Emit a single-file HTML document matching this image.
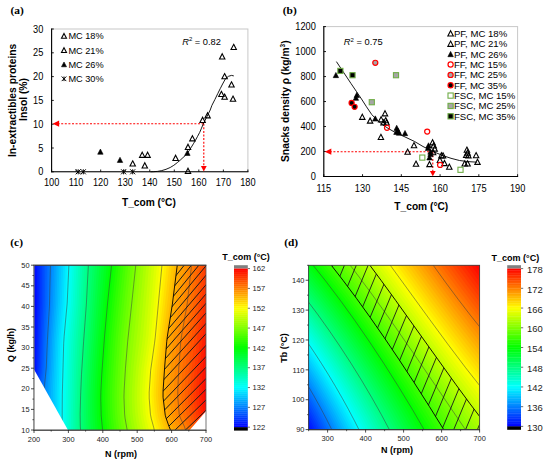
<!DOCTYPE html>
<html><head><meta charset="utf-8"><title>Figure</title>
<style>
html,body{margin:0;padding:0;background:#fff;width:550px;height:463px;overflow:hidden;}
svg{display:block;}

</style></head><body>
<svg width="550" height="463" viewBox="0 0 550 463">
<rect x="0" y="0" width="550" height="463" fill="#fff"/>
<text x="10.5" y="13.9" font-size="11.4" text-anchor="start" font-weight="bold" font-family='"Liberation Serif", serif' fill="#000">(a)</text>
<rect x="51.6" y="29" width="196.3" height="142.8" fill="none" stroke="#c8c8c8" stroke-width="1"/>
<line x1="51.6" y1="28.5" x2="51.6" y2="172.3" stroke="#000" stroke-width="1.1"/>
<line x1="51.1" y1="171.8" x2="248.4" y2="171.8" stroke="#000" stroke-width="1.1"/>
<line x1="51.6" y1="171.8" x2="53.8" y2="171.8" stroke="#000" stroke-width="0.9"/>
<text transform="translate(43.4,175.38) scale(1,1.08)" font-size="9.25" text-anchor="end" font-weight="normal" font-family='"Liberation Sans", sans-serif' fill="#000">0</text>
<line x1="51.6" y1="148" x2="53.8" y2="148" stroke="#000" stroke-width="0.9"/>
<text transform="translate(43.4,151.58) scale(1,1.08)" font-size="9.25" text-anchor="end" font-weight="normal" font-family='"Liberation Sans", sans-serif' fill="#000">5</text>
<line x1="51.6" y1="124.2" x2="53.8" y2="124.2" stroke="#000" stroke-width="0.9"/>
<text transform="translate(43.4,127.78) scale(1,1.08)" font-size="9.25" text-anchor="end" font-weight="normal" font-family='"Liberation Sans", sans-serif' fill="#000">10</text>
<line x1="51.6" y1="100.4" x2="53.8" y2="100.4" stroke="#000" stroke-width="0.9"/>
<text transform="translate(43.4,103.98) scale(1,1.08)" font-size="9.25" text-anchor="end" font-weight="normal" font-family='"Liberation Sans", sans-serif' fill="#000">15</text>
<line x1="51.6" y1="76.6" x2="53.8" y2="76.6" stroke="#000" stroke-width="0.9"/>
<text transform="translate(43.4,80.18) scale(1,1.08)" font-size="9.25" text-anchor="end" font-weight="normal" font-family='"Liberation Sans", sans-serif' fill="#000">20</text>
<line x1="51.6" y1="52.8" x2="53.8" y2="52.8" stroke="#000" stroke-width="0.9"/>
<text transform="translate(43.4,56.38) scale(1,1.08)" font-size="9.25" text-anchor="end" font-weight="normal" font-family='"Liberation Sans", sans-serif' fill="#000">25</text>
<line x1="51.6" y1="29" x2="53.8" y2="29" stroke="#000" stroke-width="0.9"/>
<text transform="translate(43.4,32.58) scale(1,1.08)" font-size="9.25" text-anchor="end" font-weight="normal" font-family='"Liberation Sans", sans-serif' fill="#000">30</text>
<line x1="51.6" y1="171.8" x2="51.6" y2="169.5" stroke="#000" stroke-width="0.9"/>
<text transform="translate(51.6,186.2) scale(1,1.08)" font-size="9.25" text-anchor="middle" font-weight="normal" font-family='"Liberation Sans", sans-serif' fill="#000">100</text>
<line x1="76.14" y1="171.8" x2="76.14" y2="169.5" stroke="#000" stroke-width="0.9"/>
<text transform="translate(76.14,186.2) scale(1,1.08)" font-size="9.25" text-anchor="middle" font-weight="normal" font-family='"Liberation Sans", sans-serif' fill="#000">110</text>
<line x1="100.68" y1="171.8" x2="100.68" y2="169.5" stroke="#000" stroke-width="0.9"/>
<text transform="translate(100.68,186.2) scale(1,1.08)" font-size="9.25" text-anchor="middle" font-weight="normal" font-family='"Liberation Sans", sans-serif' fill="#000">120</text>
<line x1="125.21" y1="171.8" x2="125.21" y2="169.5" stroke="#000" stroke-width="0.9"/>
<text transform="translate(125.21,186.2) scale(1,1.08)" font-size="9.25" text-anchor="middle" font-weight="normal" font-family='"Liberation Sans", sans-serif' fill="#000">130</text>
<line x1="149.75" y1="171.8" x2="149.75" y2="169.5" stroke="#000" stroke-width="0.9"/>
<text transform="translate(149.75,186.2) scale(1,1.08)" font-size="9.25" text-anchor="middle" font-weight="normal" font-family='"Liberation Sans", sans-serif' fill="#000">140</text>
<line x1="174.29" y1="171.8" x2="174.29" y2="169.5" stroke="#000" stroke-width="0.9"/>
<text transform="translate(174.29,186.2) scale(1,1.08)" font-size="9.25" text-anchor="middle" font-weight="normal" font-family='"Liberation Sans", sans-serif' fill="#000">150</text>
<line x1="198.82" y1="171.8" x2="198.82" y2="169.5" stroke="#000" stroke-width="0.9"/>
<text transform="translate(198.82,186.2) scale(1,1.08)" font-size="9.25" text-anchor="middle" font-weight="normal" font-family='"Liberation Sans", sans-serif' fill="#000">160</text>
<line x1="223.36" y1="171.8" x2="223.36" y2="169.5" stroke="#000" stroke-width="0.9"/>
<text transform="translate(223.36,186.2) scale(1,1.08)" font-size="9.25" text-anchor="middle" font-weight="normal" font-family='"Liberation Sans", sans-serif' fill="#000">170</text>
<line x1="247.9" y1="171.8" x2="247.9" y2="169.5" stroke="#000" stroke-width="0.9"/>
<text transform="translate(247.9,186.2) scale(1,1.08)" font-size="9.25" text-anchor="middle" font-weight="normal" font-family='"Liberation Sans", sans-serif' fill="#000">180</text>
<text x="148.9" y="205.6" font-size="10.2" text-anchor="middle" font-weight="bold" font-family='"Liberation Sans", sans-serif' fill="#000">T_com (°C)</text>
<text transform="translate(15.7,100.4) rotate(-90)" font-size="10.3" font-weight="bold" text-anchor="middle" font-family='"Liberation Sans", sans-serif'>In-extractibles proteins</text>
<text transform="translate(26.6,99.5) rotate(-90)" font-size="10.3" font-weight="bold" text-anchor="middle" font-family='"Liberation Sans", sans-serif'>Insol (%)</text>
<polygon points="64,33.45 66.5,38.25 61.5,38.25" fill="none" stroke="#000" stroke-width="1.1"/>
<text x="68.4" y="39.29" font-size="9.2" text-anchor="start" font-weight="normal" font-family='"Liberation Sans", sans-serif' fill="#000">MC 18%</text>
<polygon points="64,47.72 66.5,52.52 61.5,52.52" fill="none" stroke="#000" stroke-width="1.1"/>
<text x="68.4" y="53.56" font-size="9.2" text-anchor="start" font-weight="normal" font-family='"Liberation Sans", sans-serif' fill="#000">MC 21%</text>
<polygon points="64,61.99 66.5,66.79 61.5,66.79" fill="#000" stroke="#000" stroke-width="0.6"/>
<text x="68.4" y="67.83" font-size="9.2" text-anchor="start" font-weight="normal" font-family='"Liberation Sans", sans-serif' fill="#000">MC 26%</text>
<line x1="61.7" y1="76.51" x2="66.3" y2="81.11" stroke="#000" stroke-width="1"/>
<line x1="61.7" y1="81.11" x2="66.3" y2="76.51" stroke="#000" stroke-width="1"/>
<line x1="64" y1="76.51" x2="64" y2="81.11" stroke="#000" stroke-width="1"/>
<text x="68.4" y="82.1" font-size="9.2" text-anchor="start" font-weight="normal" font-family='"Liberation Sans", sans-serif' fill="#000">MC 30%</text>
<text x="182.2" y="44.7" font-size="9.3" font-family='"Liberation Sans", sans-serif'><tspan font-style="italic">R</tspan><tspan font-size="6" dy="-3.3">2</tspan><tspan dy="3.3"> = 0.82</tspan></text>
<line x1="57.6" y1="123.7" x2="203.8" y2="123.7" stroke="#ff0000" stroke-width="1.1" stroke-dasharray="2,1.6"/>
<polygon points="52.6,123.7 59.1,120.6 59.1,126.8" fill="#ff0000" stroke="none" stroke-width="1"/>
<line x1="203.8" y1="123.7" x2="203.8" y2="166" stroke="#ff0000" stroke-width="1.1" stroke-dasharray="2,1.6"/>
<polygon points="203.8,171.5 200.9,166 206.7,166" fill="#ff0000" stroke="none" stroke-width="1"/>
<path d="M150.5,171.8 L153.4,171.7 L157.5,171.4 L161.8,170.6 L166,169.3 L170.2,167.5 L173.8,165.3 L177.3,162.6 L180.2,160.2 L182.9,157.7 L185.1,155.7 L187.1,153.5 L189.3,150.5 L191.3,147.2 L193.4,143.8 L195.5,140.2 L197.6,136.3 L199.7,132.4 L201.5,128.2 L203.2,124 L205,120.5 L206.7,117 L208.5,113.5 L210.2,110 L211.9,105.4 L214.9,99.5 L217.8,93.5 L220.2,88.7 L222.6,84 L225.5,78.7 L228.5,76.3 L231.5,75.4 L233.8,75.9" fill="none" stroke="#000" stroke-width="0.9"/>
<polygon points="132.7,160.87 135.4,166.03 130,166.03" fill="none" stroke="#000" stroke-width="1.1"/>
<polygon points="142.2,152.17 144.9,157.33 139.5,157.33" fill="none" stroke="#000" stroke-width="1.1"/>
<polygon points="147.6,152.17 150.3,157.33 144.9,157.33" fill="none" stroke="#000" stroke-width="1.1"/>
<polygon points="144.8,162.77 147.5,167.93 142.1,167.93" fill="none" stroke="#000" stroke-width="1.1"/>
<polygon points="175.6,155.27 178.3,160.43 172.9,160.43" fill="none" stroke="#000" stroke-width="1.1"/>
<polygon points="188,144.27 190.7,149.43 185.3,149.43" fill="none" stroke="#000" stroke-width="1.1"/>
<polygon points="192.4,135.67 195.1,140.83 189.7,140.83" fill="none" stroke="#000" stroke-width="1.1"/>
<polygon points="188,168.27 190.7,173.43 185.3,173.43" fill="none" stroke="#000" stroke-width="1.1"/>
<polygon points="202.6,117.27 205.3,122.43 199.9,122.43" fill="none" stroke="#000" stroke-width="1.1"/>
<polygon points="207.6,112.67 210.3,117.83 204.9,117.83" fill="none" stroke="#000" stroke-width="1.1"/>
<polygon points="221.4,91.37 224.1,96.53 218.7,96.53" fill="none" stroke="#000" stroke-width="1.1"/>
<polygon points="224.6,94.07 227.3,99.23 221.9,99.23" fill="none" stroke="#000" stroke-width="1.1"/>
<polygon points="233,96.07 235.7,101.23 230.3,101.23" fill="none" stroke="#000" stroke-width="1.1"/>
<polygon points="233.7,44.37 236.4,49.53 231,49.53" fill="none" stroke="#000" stroke-width="1.1"/>
<polygon points="222.2,53.77 224.9,58.93 219.5,58.93" fill="none" stroke="#000" stroke-width="1.1"/>
<polygon points="224.6,73.57 227.3,78.73 221.9,78.73" fill="none" stroke="#000" stroke-width="1.1"/>
<polygon points="231.5,81.87 234.2,87.03 228.8,87.03" fill="none" stroke="#000" stroke-width="1.1"/>
<polygon points="100.4,149.07 103.1,154.23 97.7,154.23" fill="#000" stroke="#000" stroke-width="0.6"/>
<polygon points="120,157.27 122.7,162.43 117.3,162.43" fill="#000" stroke="#000" stroke-width="0.6"/>
<polygon points="187.4,150.27 190.1,155.43 184.7,155.43" fill="#000" stroke="#000" stroke-width="0.6"/>
<line x1="75.7" y1="169.3" x2="80.7" y2="174.3" stroke="#000" stroke-width="1"/>
<line x1="75.7" y1="174.3" x2="80.7" y2="169.3" stroke="#000" stroke-width="1"/>
<line x1="78.2" y1="169.3" x2="78.2" y2="174.3" stroke="#000" stroke-width="1"/>
<line x1="80.8" y1="169.3" x2="85.8" y2="174.3" stroke="#000" stroke-width="1"/>
<line x1="80.8" y1="174.3" x2="85.8" y2="169.3" stroke="#000" stroke-width="1"/>
<line x1="83.3" y1="169.3" x2="83.3" y2="174.3" stroke="#000" stroke-width="1"/>
<line x1="121.1" y1="169.3" x2="126.1" y2="174.3" stroke="#000" stroke-width="1"/>
<line x1="121.1" y1="174.3" x2="126.1" y2="169.3" stroke="#000" stroke-width="1"/>
<line x1="123.6" y1="169.3" x2="123.6" y2="174.3" stroke="#000" stroke-width="1"/>
<line x1="130.2" y1="169.3" x2="135.2" y2="174.3" stroke="#000" stroke-width="1"/>
<line x1="130.2" y1="174.3" x2="135.2" y2="169.3" stroke="#000" stroke-width="1"/>
<line x1="132.7" y1="169.3" x2="132.7" y2="174.3" stroke="#000" stroke-width="1"/>
<text x="282.8" y="13.9" font-size="11.4" text-anchor="start" font-weight="bold" font-family='"Liberation Serif", serif' fill="#000">(b)</text>
<rect x="323.8" y="26.6" width="193.8" height="149.9" fill="none" stroke="#c8c8c8" stroke-width="1"/>
<line x1="323.8" y1="26.1" x2="323.8" y2="177" stroke="#000" stroke-width="1.1"/>
<line x1="323.3" y1="176.5" x2="518.1" y2="176.5" stroke="#000" stroke-width="1.1"/>
<line x1="323.8" y1="176.5" x2="326" y2="176.5" stroke="#000" stroke-width="0.9"/>
<text transform="translate(315.9,179.78) scale(1,1.08)" font-size="9.25" text-anchor="end" font-weight="normal" font-family='"Liberation Sans", sans-serif' fill="#000">0</text>
<line x1="323.8" y1="151.52" x2="326" y2="151.52" stroke="#000" stroke-width="0.9"/>
<text transform="translate(315.9,154.79) scale(1,1.08)" font-size="9.25" text-anchor="end" font-weight="normal" font-family='"Liberation Sans", sans-serif' fill="#000">200</text>
<line x1="323.8" y1="126.53" x2="326" y2="126.53" stroke="#000" stroke-width="0.9"/>
<text transform="translate(315.9,129.81) scale(1,1.08)" font-size="9.25" text-anchor="end" font-weight="normal" font-family='"Liberation Sans", sans-serif' fill="#000">400</text>
<line x1="323.8" y1="101.55" x2="326" y2="101.55" stroke="#000" stroke-width="0.9"/>
<text transform="translate(315.9,104.83) scale(1,1.08)" font-size="9.25" text-anchor="end" font-weight="normal" font-family='"Liberation Sans", sans-serif' fill="#000">600</text>
<line x1="323.8" y1="76.57" x2="326" y2="76.57" stroke="#000" stroke-width="0.9"/>
<text transform="translate(315.9,79.84) scale(1,1.08)" font-size="9.25" text-anchor="end" font-weight="normal" font-family='"Liberation Sans", sans-serif' fill="#000">800</text>
<line x1="323.8" y1="51.58" x2="326" y2="51.58" stroke="#000" stroke-width="0.9"/>
<text transform="translate(315.9,54.86) scale(1,1.08)" font-size="9.25" text-anchor="end" font-weight="normal" font-family='"Liberation Sans", sans-serif' fill="#000">1000</text>
<line x1="323.8" y1="26.6" x2="326" y2="26.6" stroke="#000" stroke-width="0.9"/>
<text transform="translate(315.9,29.88) scale(1,1.08)" font-size="9.25" text-anchor="end" font-weight="normal" font-family='"Liberation Sans", sans-serif' fill="#000">1200</text>
<line x1="323.8" y1="176.5" x2="323.8" y2="174.2" stroke="#000" stroke-width="0.9"/>
<text transform="translate(323.8,191.9) scale(1,1.08)" font-size="9.25" text-anchor="middle" font-weight="normal" font-family='"Liberation Sans", sans-serif' fill="#000">115</text>
<line x1="362.56" y1="176.5" x2="362.56" y2="174.2" stroke="#000" stroke-width="0.9"/>
<text transform="translate(362.56,191.9) scale(1,1.08)" font-size="9.25" text-anchor="middle" font-weight="normal" font-family='"Liberation Sans", sans-serif' fill="#000">130</text>
<line x1="401.32" y1="176.5" x2="401.32" y2="174.2" stroke="#000" stroke-width="0.9"/>
<text transform="translate(401.32,191.9) scale(1,1.08)" font-size="9.25" text-anchor="middle" font-weight="normal" font-family='"Liberation Sans", sans-serif' fill="#000">145</text>
<line x1="440.08" y1="176.5" x2="440.08" y2="174.2" stroke="#000" stroke-width="0.9"/>
<text transform="translate(440.08,191.9) scale(1,1.08)" font-size="9.25" text-anchor="middle" font-weight="normal" font-family='"Liberation Sans", sans-serif' fill="#000">160</text>
<line x1="478.84" y1="176.5" x2="478.84" y2="174.2" stroke="#000" stroke-width="0.9"/>
<text transform="translate(478.84,191.9) scale(1,1.08)" font-size="9.25" text-anchor="middle" font-weight="normal" font-family='"Liberation Sans", sans-serif' fill="#000">175</text>
<line x1="517.6" y1="176.5" x2="517.6" y2="174.2" stroke="#000" stroke-width="0.9"/>
<text transform="translate(517.6,191.9) scale(1,1.08)" font-size="9.25" text-anchor="middle" font-weight="normal" font-family='"Liberation Sans", sans-serif' fill="#000">190</text>
<text x="421.3" y="209.7" font-size="10.2" text-anchor="middle" font-weight="bold" font-family='"Liberation Sans", sans-serif' fill="#000">T_com (°C)</text>
<text transform="translate(288.5,101.2) rotate(-90)" font-size="10.3" font-weight="bold" text-anchor="middle" font-family='"Liberation Sans", sans-serif'>Snacks density ρ (kg/m<tspan font-size="6.5" dy="-3.5">3</tspan><tspan dy="3.5">)</tspan></text>
<text x="343.8" y="45.1" font-size="9.3" font-family='"Liberation Sans", sans-serif'><tspan font-style="italic">R</tspan><tspan font-size="6" dy="-3.3">2</tspan><tspan dy="3.3"> = 0.75</tspan></text>
<polygon points="450.6,30.72 453.35,35.98 447.85,35.98" fill="none" stroke="#000" stroke-width="1.1"/>
<text x="453.9" y="36.94" font-size="9.6" text-anchor="start" font-weight="normal" font-family='"Liberation Sans", sans-serif' fill="#000">PF, MC 18%</text>
<polygon points="450.6,41.08 453.35,46.33 447.85,46.33" fill="none" stroke="#000" stroke-width="1.1"/>
<text x="453.9" y="47.29" font-size="9.6" text-anchor="start" font-weight="normal" font-family='"Liberation Sans", sans-serif' fill="#000">PF, MC 21%</text>
<polygon points="450.6,51.43 453.35,56.68 447.85,56.68" fill="#000" stroke="#000" stroke-width="0.6"/>
<text x="453.9" y="57.64" font-size="9.6" text-anchor="start" font-weight="normal" font-family='"Liberation Sans", sans-serif' fill="#000">PF, MC 26%</text>
<circle cx="450.6" cy="64.55" r="2.58" fill="none" stroke="#ff0000" stroke-width="1.2"/>
<text x="453.9" y="67.99" font-size="9.6" text-anchor="start" font-weight="normal" font-family='"Liberation Sans", sans-serif' fill="#000">FF, MC 15%</text>
<circle cx="450.6" cy="74.9" r="2.58" fill="#a6a6a6" stroke="#ff0000" stroke-width="1.2"/>
<text x="453.9" y="78.34" font-size="9.6" text-anchor="start" font-weight="normal" font-family='"Liberation Sans", sans-serif' fill="#000">FF, MC 25%</text>
<circle cx="450.6" cy="85.25" r="2.58" fill="#000" stroke="#ff0000" stroke-width="1.2"/>
<text x="453.9" y="88.69" font-size="9.6" text-anchor="start" font-weight="normal" font-family='"Liberation Sans", sans-serif' fill="#000">FF, MC 35%</text>
<rect x="447.99" y="92.99" width="5.22" height="5.22" fill="none" stroke="#70ad47" stroke-width="1.1"/>
<text x="453.9" y="99.04" font-size="9.6" text-anchor="start" font-weight="normal" font-family='"Liberation Sans", sans-serif' fill="#000">FSC, MC 15%</text>
<rect x="447.99" y="103.34" width="5.22" height="5.22" fill="#a6a6a6" stroke="#70ad47" stroke-width="1.1"/>
<text x="453.9" y="109.39" font-size="9.6" text-anchor="start" font-weight="normal" font-family='"Liberation Sans", sans-serif' fill="#000">FSC, MC 25%</text>
<rect x="447.99" y="113.69" width="5.22" height="5.22" fill="#000" stroke="#70ad47" stroke-width="1.1"/>
<text x="453.9" y="119.74" font-size="9.6" text-anchor="start" font-weight="normal" font-family='"Liberation Sans", sans-serif' fill="#000">FSC, MC 35%</text>
<line x1="329.8" y1="151.7" x2="432.8" y2="151.7" stroke="#ff0000" stroke-width="1.1" stroke-dasharray="2,1.6"/>
<polygon points="324.8,151.7 331.3,148.6 331.3,154.8" fill="#ff0000" stroke="none" stroke-width="1"/>
<line x1="432.8" y1="151.7" x2="432.8" y2="171" stroke="#ff0000" stroke-width="1.1" stroke-dasharray="2,1.6"/>
<polygon points="432.8,176.2 429.9,171 435.7,171" fill="#ff0000" stroke="none" stroke-width="1"/>
<path d="M336.4,61.6 L341,68.5 L346,76 L351,83.5 L356.3,91.3 L361.5,99 L366.5,106.8 L371.8,114.6 L377,120 L382,124.3 L386.9,127.6 L393,131.2 L400,134.6 L407,137.9 L414.6,141.5 L423,146.5 L431.8,151 L442.9,155.6 L451,158.3 L459.5,160.5 L468,161.6 L477.1,162.2" fill="none" stroke="#000" stroke-width="0.9"/>
<polygon points="362.3,114.17 365,119.33 359.6,119.33" fill="none" stroke="#000" stroke-width="1.1"/>
<polygon points="370.1,117.97 372.8,123.13 367.4,123.13" fill="none" stroke="#000" stroke-width="1.1"/>
<polygon points="385,110.67 387.7,115.83 382.3,115.83" fill="none" stroke="#000" stroke-width="1.1"/>
<polygon points="381.1,116.67 383.8,121.83 378.4,121.83" fill="none" stroke="#000" stroke-width="1.1"/>
<polygon points="385.7,117.57 388.4,122.73 383,122.73" fill="none" stroke="#000" stroke-width="1.1"/>
<polygon points="383.5,119.87 386.2,125.03 380.8,125.03" fill="none" stroke="#000" stroke-width="1.1"/>
<polygon points="386.6,119.77 389.3,124.93 383.9,124.93" fill="none" stroke="#000" stroke-width="1.1"/>
<polygon points="380.9,134.37 383.6,139.53 378.2,139.53" fill="none" stroke="#000" stroke-width="1.1"/>
<polygon points="414,142.57 416.7,147.73 411.3,147.73" fill="none" stroke="#000" stroke-width="1.1"/>
<polygon points="407.6,149.07 410.3,154.23 404.9,154.23" fill="none" stroke="#000" stroke-width="1.1"/>
<polygon points="416,161.07 418.7,166.23 413.3,166.23" fill="none" stroke="#000" stroke-width="1.1"/>
<polygon points="432.6,139.67 435.3,144.83 429.9,144.83" fill="none" stroke="#000" stroke-width="1.1"/>
<polygon points="433.7,142.77 436.4,147.93 431,147.93" fill="none" stroke="#000" stroke-width="1.1"/>
<polygon points="434.7,145.97 437.4,151.13 432,151.13" fill="none" stroke="#000" stroke-width="1.1"/>
<polygon points="433.1,149.57 435.8,154.73 430.4,154.73" fill="none" stroke="#000" stroke-width="1.1"/>
<polygon points="429.5,161.47 432.2,166.63 426.8,166.63" fill="none" stroke="#000" stroke-width="1.1"/>
<polygon points="441.4,152.67 444.1,157.83 438.7,157.83" fill="none" stroke="#000" stroke-width="1.1"/>
<polygon points="443,152.87 445.7,158.03 440.3,158.03" fill="none" stroke="#000" stroke-width="1.1"/>
<polygon points="439.9,157.27 442.6,162.43 437.2,162.43" fill="none" stroke="#000" stroke-width="1.1"/>
<polygon points="444.5,160.47 447.2,165.63 441.8,165.63" fill="none" stroke="#000" stroke-width="1.1"/>
<polygon points="449.3,164.07 452,169.23 446.6,169.23" fill="none" stroke="#000" stroke-width="1.1"/>
<polygon points="466.9,147.07 469.6,152.23 464.2,152.23" fill="none" stroke="#000" stroke-width="1.1"/>
<polygon points="467.6,149.97 470.3,155.13 464.9,155.13" fill="none" stroke="#000" stroke-width="1.1"/>
<polygon points="466.2,152.17 468.9,157.33 463.5,157.33" fill="none" stroke="#000" stroke-width="1.1"/>
<polygon points="468.4,152.87 471.1,158.03 465.7,158.03" fill="none" stroke="#000" stroke-width="1.1"/>
<polygon points="476.1,152.57 478.8,157.73 473.4,157.73" fill="none" stroke="#000" stroke-width="1.1"/>
<polygon points="477.5,159.17 480.2,164.33 474.8,164.33" fill="none" stroke="#000" stroke-width="1.1"/>
<polygon points="464.7,160.87 467.4,166.03 462,166.03" fill="none" stroke="#000" stroke-width="1.1"/>
<polygon points="467.6,160.87 470.3,166.03 464.9,166.03" fill="none" stroke="#000" stroke-width="1.1"/>
<polygon points="335.9,72.47 338.6,77.63 333.2,77.63" fill="#000" stroke="#000" stroke-width="0.6"/>
<polygon points="356.8,92.37 359.5,97.53 354.1,97.53" fill="#000" stroke="#000" stroke-width="0.6"/>
<polygon points="355.9,95.17 358.6,100.33 353.2,100.33" fill="#000" stroke="#000" stroke-width="0.6"/>
<polygon points="375.3,115.87 378,121.03 372.6,121.03" fill="#000" stroke="#000" stroke-width="0.6"/>
<polygon points="396.7,125.27 399.4,130.43 394,130.43" fill="#000" stroke="#000" stroke-width="0.6"/>
<polygon points="398.1,128.37 400.8,133.53 395.4,133.53" fill="#000" stroke="#000" stroke-width="0.6"/>
<polygon points="396.4,129.27 399.1,134.43 393.7,134.43" fill="#000" stroke="#000" stroke-width="0.6"/>
<polygon points="405,130.47 407.7,135.63 402.3,135.63" fill="#000" stroke="#000" stroke-width="0.6"/>
<polygon points="399,130.07 401.7,135.23 396.3,135.23" fill="#000" stroke="#000" stroke-width="0.6"/>
<polygon points="428.5,142.77 431.2,147.93 425.8,147.93" fill="#000" stroke="#000" stroke-width="0.6"/>
<polygon points="428,145.37 430.7,150.53 425.3,150.53" fill="#000" stroke="#000" stroke-width="0.6"/>
<polygon points="430.5,149.07 433.2,154.23 427.8,154.23" fill="#000" stroke="#000" stroke-width="0.6"/>
<polygon points="430.5,151.27 433.2,156.43 427.8,156.43" fill="#000" stroke="#000" stroke-width="0.6"/>
<polygon points="429.5,154.77 432.2,159.93 426.8,159.93" fill="#000" stroke="#000" stroke-width="0.6"/>
<circle cx="387" cy="127.8" r="2.54" fill="none" stroke="#ff0000" stroke-width="1.2"/>
<circle cx="427.2" cy="131.6" r="2.54" fill="none" stroke="#ff0000" stroke-width="1.2"/>
<circle cx="440.1" cy="164.9" r="2.54" fill="none" stroke="#ff0000" stroke-width="1.2"/>
<circle cx="375.3" cy="62.8" r="2.54" fill="#a6a6a6" stroke="#ff0000" stroke-width="1.2"/>
<circle cx="351.6" cy="102.9" r="2.54" fill="#000" stroke="#ff0000" stroke-width="1.2"/>
<circle cx="354.6" cy="106.8" r="2.54" fill="#000" stroke="#ff0000" stroke-width="1.2"/>
<rect x="419.74" y="155.03" width="5.13" height="5.13" fill="none" stroke="#70ad47" stroke-width="1.1"/>
<rect x="457.94" y="167.24" width="5.13" height="5.13" fill="none" stroke="#70ad47" stroke-width="1.1"/>
<rect x="393.44" y="72.64" width="5.13" height="5.13" fill="#a6a6a6" stroke="#70ad47" stroke-width="1.1"/>
<rect x="369.24" y="99.64" width="5.13" height="5.13" fill="#a6a6a6" stroke="#70ad47" stroke-width="1.1"/>
<rect x="337.83" y="68.34" width="5.13" height="5.13" fill="#000" stroke="#70ad47" stroke-width="1.1"/>
<rect x="349.94" y="72.64" width="5.13" height="5.13" fill="#000" stroke="#70ad47" stroke-width="1.1"/>
<defs>
<clipPath id="clipc"><rect x="34" y="265.2" width="172" height="164.8"/></clipPath>
<clipPath id="clipd"><rect x="308.6" y="265.3" width="171.0" height="164.3"/></clipPath>
<pattern id="hatc" patternUnits="userSpaceOnUse" width="7" height="7" patternTransform="translate(0,0.5)"><path d="M-1,8 L8,-1 M-1,1 L1,-1 M6,8 L8,6" stroke="#111" stroke-width="0.85"/></pattern>
<pattern id="hatd" patternUnits="userSpaceOnUse" width="11.9" height="26.2" patternTransform="translate(1.5,0)"><path d="M0,26.2 L11.9,0 M-11.9,26.2 L0,0 M11.9,26.2 L23.8,0" stroke="#111" stroke-width="0.9"/></pattern>
</defs>
<text x="10.3" y="246" font-size="11.4" text-anchor="start" font-weight="bold" font-family='"Liberation Serif", serif' fill="#000">(c)</text>
<g clip-path="url(#clipc)">
<rect x="32" y="263.2" width="176" height="168" fill="#0000ff"/>
<path d="M34 263.2 208 263.2 208 431.2 32 431.2 32 375.99 32.98 370.2 33.2 366.2 33.66 323.2 34.22 301.2 33.32 263.2Z" fill="#0006ff"/>
<path d="M36 263.2 208 263.2 208 431.2 32 431.2 32 383.19 33.87 373.2 34.45 368.2 35.1 324.2 35.72 302.2 35 263.2Z" fill="#0013ff"/>
<path d="M37 263.2 208 263.2 208 431.2 32 431.2 32 392.44 33.05 385.2 35.35 372.2 35.83 366.2 36.52 325.2 37.26 300.2 36.69 263.2Z" fill="#0020ff"/>
<path d="M39 263.2 208 263.2 208 431.2 32.04 431.2 32.25 411.2 32.88 398.2 34.15 387.2 36.64 372.2 37.12 366.2 37.94 326.2 38.76 301.2 38.37 263.2Z" fill="#002dff"/>
<path d="M41 263.2 208 263.2 208 431.2 33.75 431.2 33.88 410.2 34.38 398.2 35.57 387.2 37.92 372.2 38.4 366.2 39.35 327.2 40.28 301.2 40.07 263.2Z" fill="#0039ff"/>
<path d="M42 263.2 208 263.2 208 431.2 35.46 431.2 35.5 410.2 35.9 398.2 36.99 387.2 39.21 372.2 39.72 365.2 40.69 330.2 41.78 302.2 41.77 263.2Z" fill="#0046ff"/>
<path d="M44 263.2 208 263.2 208 431.2 37.18 431.2 37.14 409.2 37.42 398.2 38.42 387.2 40.5 372.2 41.01 365.2 41.9 336.2 43.31 302.2 43.48 263.2Z" fill="#0053ff"/>
<path d="M46 263.2 208 263.2 208 431.2 38.91 431.2 38.79 408.2 38.92 399.2 39.77 388.2 41.7 373.2 42.28 366.2 43.18 339.2 44.83 303.2 45.2 263.2Z" fill="#0060ff"/>
<path d="M47 263.2 208 263.2 208 431.2 40.65 431.2 40.43 406.2 40.53 398.2 41.43 386.2 43.15 372.2 43.61 366.2 44.58 339.2 46.4 303.2 46.94 263.2Z" fill="#006cff"/>
<path d="M49 263.2 208 263.2 208 431.2 42.4 431.2 42.15 397.2 43 385.2 44.52 372.2 44.96 366.2 46 339.43 47.98 303.2 48.69 263.2Z" fill="#0079ff"/>
<path d="M51 263.2 208 263.2 208 431.2 44.16 431.2 43.78 397.2 44.53 385.2 46.25 368.2 47.47 339.2 49.46 306.2 50.46 263.2Z" fill="#0086ff"/>
<path d="M53 263.2 208 263.2 208 431.2 45.92 431.2 45.52 396.2 46.12 385.2 47.7 368.2 48.95 339.2 51.14 305.2 52.25 263.2Z" fill="#0093ff"/>
<path d="M55 263.2 208 263.2 208 431.2 47.7 431.2 47.23 401.2 47.3 395.2 47.84 384.2 49.21 368.2 50.48 339.2 52.8 305.2 54.06 263.2Z" fill="#009fff"/>
<path d="M56 263.2 208 263.2 208 431.2 49.48 431.2 49.03 400.2 49.22 391.2 49.62 383.2 50.77 368.2 52.03 339.2 54.54 304.2 55.89 263.2Z" fill="#00acff"/>
<path d="M58 263.2 208 263.2 208 431.2 51.27 431.2 50.88 400.2 51.13 388.2 52.38 368.2 53.63 339.2 56.32 303.2 57.73 263.2Z" fill="#00b9ff"/>
<path d="M60 263.2 208 263.2 208 431.2 53.06 431.2 52.75 399.2 53 387.04 54.04 368.2 55.19 340.2 58.12 302.2 59.58 263.2Z" fill="#00c6ff"/>
<path d="M62 263.2 208 263.2 208 431.2 54.86 431.2 54.65 399.2 54.93 385.2 56.85 340.2 59.91 302.2 61.45 263.2Z" fill="#00d2ff"/>
<path d="M64 263.2 208 263.2 208 431.2 56.66 431.2 56.64 392.2 58.3 345.2 58.82 336.2 61.66 303.2 63.32 263.2Z" fill="#00dfff"/>
<path d="M66 263.2 208 263.2 208 431.2 58.46 431.2 58.54 393.2 60.08 344.2 60.56 336.2 63.49 303.2 65.21 263.2Z" fill="#00ecff"/>
<path d="M68 263.2 208 263.2 208 431.2 60.26 431.2 60.45 393.2 61.89 343.2 62.34 336.2 65.34 303.2 67.09 263.2Z" fill="#00f9ff"/>
<path d="M69 263.2 208 263.2 208 431.2 62.07 431.2 62.32 394.2 63.7 343.2 64.15 336.2 67.2 303.2 68.98 263.2Z" fill="#00fff9"/>
<path d="M71 263.2 208 263.2 208 431.2 63.87 431.2 64.17 395.2 65.57 343.2 66.02 336.2 69.06 303.2 70.86 263.2Z" fill="#00ffec"/>
<path d="M73 263.2 208 263.2 208 431.2 65.68 431.2 65.63 420.2 65.99 396.2 67.43 344.2 67.93 336.2 70.93 303.2 72.75 263.2Z" fill="#00ffdf"/>
<path d="M75 263.2 208 263.2 208 431.2 67.49 431.2 67.42 419.2 67.79 397.2 68.49 369.2 69.32 345.2 69.87 336.2 72.8 303.2 74.64 263.2Z" fill="#00ffd2"/>
<path d="M77 263.2 208 263.2 208 431.2 69.31 431.2 69.19 419.2 69.58 398.2 70.36 369.2 71.23 346.2 71.84 336.2 74.7 303.2 76.55 263.2Z" fill="#00ffc6"/>
<path d="M79 263.2 208 263.2 208 431.2 71.15 431.2 70.97 419.2 71.31 401.2 72.2 370.2 73.02 350.2 73.76 337.2 76.6 303.2 78.46 263.2Z" fill="#00ffb9"/>
<path d="M81 263.2 208 263.2 208 431.2 72.99 431.2 72.77 423.2 72.82 413.2 74.29 365.2 75.63 339.2 78.53 303.2 80.4 263.2Z" fill="#00ffac"/>
<path d="M83 263.2 208 263.2 208 431.2 74.85 431.2 74.6 424.2 74.62 413.2 76.02 369.2 77.59 340.2 80.47 303.2 82.36 263.2Z" fill="#00ff9f"/>
<path d="M85 263.2 208 263.2 208 431.2 76.74 431.2 76.45 424.2 76.43 413.2 76.91 395.2 77.83 371.2 79.55 341.2 82.44 303.2 84.34 263.2Z" fill="#00ff93"/>
<path d="M87 263.2 208 263.2 208 431.2 78.67 431.2 78.35 425.2 78.26 414.2 78.75 395.2 79.69 372.2 81.59 341.2 84.36 304.2 86.37 263.2Z" fill="#00ff86"/>
<path d="M89 263.2 208 263.2 208 431.2 80.64 431.2 80.31 426.2 80.13 414.2 80.61 395.2 81.51 374.2 83.62 341.2 86.36 304.2 88.45 263.2Z" fill="#00ff79"/>
<path d="M91 263.2 208 263.2 208 431.2 82.66 431.2 82.26 425.2 82.08 413.2 82.51 395.2 83.4 375.2 85.58 342.2 88.38 304.2 90.61 263.2Z" fill="#00ff6c"/>
<path d="M93 263.2 208 263.2 208 431.2 84.73 431.2 84.26 424.2 84.05 414.2 84.37 397.2 84.91 384.2 85.88 366.2 90.41 304.2 92.83 263.2Z" fill="#00ff60"/>
<path d="M96 263.2 208 263.2 208 431.2 86.85 431.2 86.34 424.2 86.08 414.2 86.3 398.2 86.81 385.2 87.8 367.2 92.33 306.2 95.1 263.2Z" fill="#00ff53"/>
<path d="M98 263.2 208 263.2 208 431.2 89.02 431.2 88.42 423.2 88.13 413.2 88.31 397.2 88.79 385.2 89.87 366.2 94.4 306.2 97.41 263.2Z" fill="#00ff46"/>
<path d="M100 263.2 208 263.2 208 431.2 91.22 431.2 90.52 422.2 90.23 413.2 90.32 397.2 90.79 385.2 92.11 363.2 99.76 263.2Z" fill="#00ff39"/>
<path d="M103 263.2 208 263.2 208 431.2 93.46 431.2 92.65 421.2 92.34 412.2 92.35 397.2 92.82 385.2 93.79 368.2 95.79 341.2 102.14 263.2Z" fill="#00ff2d"/>
<path d="M105 263.2 208 263.2 208 431.2 95.73 431.2 94.87 421.2 94.51 413.2 94.41 397.2 94.82 386.2 95.84 368.2 98 339.22 104.53 263.2Z" fill="#00ff20"/>
<path d="M107 263.2 208 263.2 208 431.2 98.02 431.2 97.04 420.2 96.69 413.2 96.5 397.2 96.9 386.2 97.92 368.2 100.07 339.2 103.26 302.2 106.95 263.2Z" fill="#00ff13"/>
<path d="M110 263.2 208 263.2 208 431.2 100.34 431.2 99.01 416.2 98.62 399.2 98.72 392.2 99.6 375.2 102.42 336.2 105.37 303.2 109.36 263.2Z" fill="#00ff06"/>
<path d="M112 263.2 208 263.2 208 431.2 102.67 431.2 101.19 415.2 100.76 398.2 100.9 391.2 101.78 374.2 104.55 336.2 107.59 303.2 111.76 263.2Z" fill="#06ff00"/>
<path d="M115 263.2 208 263.2 208 431.2 105.02 431.2 103.46 415.2 102.97 399.2 103.07 391.2 103.94 374.2 106.79 335.2 109.74 304.2 114.15 263.2Z" fill="#13ff00"/>
<path d="M117 263.2 208 263.2 208 431.2 107.39 431.2 105.81 416.2 105.21 400.2 105.28 391.2 106.13 374.2 109 334.97 111.91 305.2 116.52 263.2Z" fill="#20ff00"/>
<path d="M119 263.2 208 263.2 208 431.2 109.77 431.2 108.11 416.2 107.5 402.2 107.48 392.2 108.3 375.2 110.05 349.2 111.29 334.2 114.11 306.2 118.89 263.2Z" fill="#2dff00"/>
<path d="M122 263.2 208 263.2 208 431.2 112.18 431.2 110.5 417.2 109.83 404.2 109.75 392.2 110.5 376.2 112.23 350.2 113.55 334.2 116.33 307.2 121.27 263.2Z" fill="#39ff00"/>
<path d="M124 263.2 208 263.2 208 431.2 114.62 431.2 112.92 418.2 112.19 406.2 112.03 393.2 112.69 378.2 114.1 356.2 115.76 335.2 118.48 309.2 123.66 263.2Z" fill="#46ff00"/>
<path d="M126 263.85 126.07 263.2 208 263.2 208 431.2 117.09 431.2 115.39 419.2 114.65 409.2 114.32 395.2 114.92 380.2 116.02 362.2 118.03 336.2 125.96 264.2Z" fill="#53ff00"/>
<path d="M129 263.2 208 263.2 208 431.2 119.6 431.2 117.78 419.2 117.12 411.2 116.68 396.2 117.14 383.2 118.2 365.2 120.35 337.2 128.5 263.2Z" fill="#60ff00"/>
<path d="M131 263.2 208 263.2 208 431.2 122.15 431.2 120.35 420.2 119.63 413.2 119.07 397.2 119.36 387.2 120.5 367.2 122.74 338.2 130.97 263.2Z" fill="#6cff00"/>
<path d="M134 263.2 208 263.2 208 431.2 124.74 431.2 122.7 419.2 122.12 414.2 121.52 398.2 121.71 389.2 122.91 368.2 125.13 340.2 133.46 263.2Z" fill="#79ff00"/>
<path d="M136 263.22 208 263.2 208 431.2 127.37 431.2 125.09 418.2 124.61 414.2 123.98 397.2 124.16 390.2 125.39 369.2 127.63 342.2 135.89 264.2Z" fill="#86ff00"/>
<path d="M139 263.2 208 263.2 208 431.2 130.05 431.2 128 419.99 127.21 414.2 126.56 398.2 126.72 390.2 127.99 369.2 130.25 344.2 138.59 263.2Z" fill="#93ff00"/>
<path d="M142 263.2 208 263.2 208 431.2 132.76 431.2 130.7 420.2 129.8 413.2 129.16 398.2 129.35 389.2 131 365.2 135.15 325.2 141.22 263.2Z" fill="#9fff00"/>
<path d="M144 263.2 208 263.2 208 431.2 135.5 431.2 133.39 420.2 132.39 412.2 131.8 399.2 131.96 389.2 133.41 368.2 137.63 330.2 143.87 263.2Z" fill="#acff00"/>
<path d="M147 263.2 208 263.2 208 431.2 138.25 431.2 136.09 420.2 135.06 412.2 134.41 399.2 134.62 388.2 135.39 376.2 136.18 367.2 139.44 341.2 140.52 331.2 146.54 263.2Z" fill="#b9ff00"/>
<path d="M150 263.2 208 263.2 208 431.2 141.02 431.2 138.79 420.2 137.71 412.2 137.04 400.2 137.17 389.2 137.93 377.2 138.72 368.2 142.23 342.2 143.25 333.2 149.2 263.2Z" fill="#c6ff00"/>
<path d="M152 263.2 208 263.2 208 431.2 143.79 431.2 141.27 419.2 140.33 412.2 139.59 399.2 139.73 389.2 140.57 376.2 141.31 368.2 145 342.46 145.95 334.2 151.85 263.2Z" fill="#d2ff00"/>
<path d="M155 263.2 208 263.2 208 431.2 146.55 431.2 143.88 419.2 143 413.2 142.11 399.2 142.19 390.2 143.09 376.2 143.83 368.2 147.55 343.2 148.51 335.2 154.48 263.2Z" fill="#dfff00"/>
<path d="M158 263.2 208 263.2 208 431.2 149.28 431.2 146.45 419.2 145.61 414.2 144.57 399.2 144.58 391.2 146.15 369.2 150.05 343.2 151 335.2 157.08 263.2Z" fill="#ecff00"/>
<path d="M160 263.2 208 263.2 208 431.2 151.95 431.2 148.74 418.2 148.04 414.2 146.9 398.2 146.95 391.2 148.5 369.2 152.37 343.2 153.21 336.2 159.64 263.2Z" fill="#f9ff00"/>
<path d="M163 263.2 208 263.2 208 431.2 154.55 431.2 151.2 418.2 150.42 414.2 149.21 398.2 149.2 392.2 150.66 370.2 155.25 337.2 162.15 263.2Z" fill="#fff900"/>
<path d="M165 263.2 208 263.2 208 431.2 157.11 431.2 153.63 418.2 152.69 413.2 151.38 396.2 151.51 390.2 152.53 374.2 153.34 366.2 157.23 337.2 164.6 263.2Z" fill="#ffec00"/>
<path d="M167 263.52 167.03 263.2 208 263.2 208 431.2 159.66 431.2 156.01 418.2 154.91 412.2 153.6 396.2 153.69 390.2 154.64 375.2 155.37 367.2 159.13 337.2 166.93 264.2Z" fill="#ffdf00"/>
<path d="M170 263.2 208 263.2 208 431.2 162.26 431.2 158.15 417.2 157.12 411.2 155.81 396.2 155.93 389.2 156.9 374.2 157.76 365.2 164.82 305.2 169.5 263.2Z" fill="#ffd200"/>
<path d="M172 263.48 172.04 263.2 208 263.2 208 431.2 164.97 431.2 161.69 421.2 160.32 416.2 159.38 410.2 158.33 400.2 158.03 395.2 158.17 389.2 159.23 373.2 162.71 339.2 167.35 303.2 171.9 264.2Z" fill="#ffc600"/>
<path d="M175 263.2 208 263.2 208 431.2 167.86 431.2 164 420.3 162.57 415.2 160.73 400.2 160.39 395.2 160.55 389.2 161.91 369.2 164.86 338.2 169.66 304.2 174.71 263.2Z" fill="#ffb900"/>
<path d="M178 263.2 208 263.2 208 431.2 171.05 431.2 168 423.63 165.79 417.2 165.04 414.2 163.15 398.2 163 392.89 164.27 372.2 166.55 343.2 167.4 336.2 172.5 303.2 177.64 263.2Z" fill="#ffac00"/>
<path d="M181 263.2 208 263.2 208 431.2 174.61 431.2 171.91 425.2 170 420.33 168.63 416.2 167.97 413.2 166.24 398.2 166.05 393.2 167.33 371.2 169.17 344.2 170.12 336.2 175.68 303.2 180.97 263.2Z" fill="#ff9f00"/>
<path d="M185 263.2 208 263.2 208 431.2 178.42 431.2 173.1 419.2 172 415.69 171.32 412.2 169.86 398.2 169.69 392.2 170.97 368.2 172.57 343.2 173.62 335.2 179.57 302.2 184.59 263.2Z" fill="#ff9300"/>
<path d="M189 263.2 208 263.2 208 431.2 182.21 431.2 180.8 427.2 176.9 419.2 175.59 415.2 175.1 412.2 173.86 398.2 173.77 390.2 174.83 368.2 176.68 341.2 177.73 334.2 183.45 303.2 188.21 263.2Z" fill="#ff8600"/>
<path d="M192 263.2 208 263.2 208 431.2 185.66 431.2 184.95 428.2 184.26 426.2 180.03 417.2 179.37 415.2 179.03 413.2 177.84 398.2 177.72 392.2 178.61 370.2 180.47 344.2 181.46 336.2 186.45 308.2 187.36 302.2 191.29 267.2 191.53 263.2Z" fill="#ff7900"/>
<path d="M195 263.2 208 263.2 208 431.2 188.76 431.2 188.12 428.2 187.22 425.2 183.96 417.2 183.06 414.2 182.58 411.2 181.69 401.2 181.35 392.2 181.92 376.2 182.48 366.2 184.18 344.2 185.16 336.2 190.49 303.2 194 270.38 194.45 263.2Z" fill="#ff6c00"/>
<path d="M198 263.2 208 263.2 208 431.2 191.65 431.2 190.25 425.2 187.54 417.2 186.43 413.2 185.64 408.2 184.91 400.2 184.67 391.2 185.12 378.2 185.75 367.2 187.36 346.2 188.37 337.2 192 313.81 193.43 303.2 196.13 278.2 196.88 269.2 197.14 263.2Z" fill="#ff6000"/>
<path d="M200 263.2 208 263.2 208 431.2 194.42 431.2 193.12 425.2 190.22 415.2 189.3 411.2 188.44 405.2 187.89 398.2 187.77 390.2 188.17 379.2 188.88 367.2 190.4 347.2 191.48 337.2 195.35 310.2 197.95 287.2 199.17 274.2 199.7 263.2Z" fill="#ff5300"/>
<path d="M203 263.2 208 263.2 208 431.2 197.11 431.2 195.88 425.2 192.78 413.2 191.67 407.2 191.1 402.2 190.78 397.2 190.77 387.2 191.66 370.2 193.55 345.2 194.55 336.2 197.7 313.2 200.79 285.2 201.74 274.2 202.19 263.2Z" fill="#ff4600"/>
<path d="M205 263.2 208 263.2 208 431.2 199.74 431.2 198.56 425.2 195.9 414.2 194.87 409.2 193.93 402.2 193.53 395.2 193.57 388.2 193.97 379.2 196.22 347.2 197.23 337.2 200.11 315.2 201.7 299.2 203.43 284.2 204.23 274.2 204.63 263.2Z" fill="#ff3900"/>
<path d="M208 263.2 208 431.2 202.34 431.2 200.99 424.2 198.04 411.2 197.02 405.2 196.32 397.2 196.32 388.2 197.12 373.2 199.14 345.2 199.95 337.2 202.48 317.2 204.15 299.2 206.02 283.2 206.69 274.2 207.06 263.2Z" fill="#ff2d00"/>
<path d="M208 287.75 208 431.2 204.9 431.2 199.86 406.2 199.16 400.2 198.92 393.2 199.52 378.2 201.99 343.2 204.83 319.2 206.49 300.2 207.95 288.2Z" fill="#ff2000"/>
<path d="M208 312.52 208 431.2 207.45 431.2 202.68 407.2 201.78 400.2 201.56 394.2 202.08 380.2 204.55 344.2 207.94 313.2Z" fill="#ff1300"/>
<path d="M208 335.73 208 420.46 205.89 410.2 204.85 404.2 204.32 399.2 204.19 394.2 204.37 387.2 204.93 377.2 207.1 345.2 207.94 336.2Z" fill="#ff0600"/>
<path d="M208 370.81 208 407.25 207.02 400.2 206.83 395.2 207.06 386.2 207.97 371.2Z" fill="#ff0000"/>
</g>
<g clip-path="url(#clipc)" fill="none" stroke="#3c3c3c" stroke-width="0.5">
<path d="M44.16 431.2 43.78 397.2 44.53 385.2 46.25 368.2 47.47 339.2 49.46 306.2 50.46 263.2"/>
<path d="M62.07 431.2 62.32 394.2 63.7 343.2 64.15 336.2 67.2 303.2 68.98 263.2"/>
<path d="M80.64 431.2 80.31 426.2 80.13 414.2 80.61 395.2 81.51 374.2 83.62 341.2 86.36 304.2 88.45 263.2"/>
<path d="M102.67 431.2 101.19 415.2 100.76 398.2 100.9 391.2 101.78 374.2 104.55 336.2 107.59 303.2 111.76 263.2"/>
<path d="M127.37 431.2 125.09 418.2 124.61 414.2 123.98 397.2 124.16 390.2 125.46 368.2 127.72 341.2 136 263.2"/>
<path d="M154.55 431.2 153.63 427.2 151.2 418.2 150.42 414.2 149.21 398.2 149.2 392.2 150.66 370.2 154.53 343.2 155.25 337.2 162.15 263.2"/>
<path d="M185.66 431.2 184.95 428.2 184.26 426.2 180.44 418.2 179.67 416.2 179.17 414.2 177.78 397.2 177.81 389.2 178.67 369.2 180.76 341.2 181.62 335.2 186.45 308.2 187.36 302.2 191.29 267.2 191.53 263.2"/>
</g>
<clipPath id="hrc"><path d="M178 263.2 208 263.2 208 431.2 171.05 431.2 168 423.63 165.79 417.2 165.04 414.2 163.15 398.2 163 392.89 164.27 372.2 166.55 343.2 167.4 336.2 172.5 303.2 177.64 263.2Z"/></clipPath>
<g clip-path="url(#clipc)"><g clip-path="url(#hrc)"><path d="M206.5 237.38 L150 308.08M206.5 246.59 L150 316.4M206.5 255.9 L150 324.81M206.5 265.2 L150 333.21M206.5 274.71 L150 341.8M206.5 284.22 L150 350.39M206.5 293.43 L150 358.7M206.5 302.84 L150 367.2M206.5 312.44 L150 375.88M206.5 322.95 L150 385.37M206.5 333.26 L150 394.68M206.5 344.87 L150 405.17M206.5 356.08 L150 415.29M206.5 366.79 L150 424.96M206.5 378.1 L150 435.18M206.5 388.81 L150 444.85M206.5 399.42 L150 454.43M206.5 409.82 L150 463.98M206.5 420.52 L150 474.68M206.5 431.22 L150 485.38M206.5 441.92 L150 496.07" stroke="#1a1a1a" stroke-width="1.0" fill="none"/></g></g>
<g clip-path="url(#clipc)" fill="none" stroke="#000" stroke-width="0.9">
<path d="M171.05 431.2 168.92 426.2 166.11 418.2 165.24 415.2 163.06 397.2 163.05 391.2 164.63 367.2 166.77 341.2 167.4 336.2 172.36 304.2 177.01 267.2 177.64 263.2"/>
</g>
<polygon points="33.5,368.6 68.2,430.5 33.5,430.5" fill="#fff" stroke="none" stroke-width="1"/>
<polygon points="206.5,410.6 206.5,430.5 189.4,430.5" fill="#fff" stroke="none" stroke-width="1"/>
<rect x="34" y="265.2" width="172" height="164.8" fill="none" stroke="#555" stroke-width="0.8"/>
<line x1="33.5" y1="265.2" x2="206.4" y2="265.2" stroke="#333" stroke-width="0.9"/>
<line x1="33.8" y1="265.2" x2="33.8" y2="430.4" stroke="#8a8a8a" stroke-width="1.1"/>
<line x1="33.6" y1="430.3" x2="206.4" y2="430.3" stroke="#333" stroke-width="0.9"/>
<line x1="31" y1="430" x2="34" y2="430" stroke="#222" stroke-width="0.8"/>
<line x1="32.4" y1="419.7" x2="34" y2="419.7" stroke="#222" stroke-width="0.7"/>
<text x="29.6" y="432.65" font-size="7.4" text-anchor="end" font-weight="normal" font-family='"Liberation Sans", sans-serif' fill="#222">10</text>
<line x1="31" y1="409.4" x2="34" y2="409.4" stroke="#222" stroke-width="0.8"/>
<line x1="32.4" y1="399.1" x2="34" y2="399.1" stroke="#222" stroke-width="0.7"/>
<text x="29.6" y="412.05" font-size="7.4" text-anchor="end" font-weight="normal" font-family='"Liberation Sans", sans-serif' fill="#222">15</text>
<line x1="31" y1="388.8" x2="34" y2="388.8" stroke="#222" stroke-width="0.8"/>
<line x1="32.4" y1="378.5" x2="34" y2="378.5" stroke="#222" stroke-width="0.7"/>
<text x="29.6" y="391.45" font-size="7.4" text-anchor="end" font-weight="normal" font-family='"Liberation Sans", sans-serif' fill="#222">20</text>
<line x1="31" y1="368.2" x2="34" y2="368.2" stroke="#222" stroke-width="0.8"/>
<line x1="32.4" y1="357.9" x2="34" y2="357.9" stroke="#222" stroke-width="0.7"/>
<text x="29.6" y="370.85" font-size="7.4" text-anchor="end" font-weight="normal" font-family='"Liberation Sans", sans-serif' fill="#222">25</text>
<line x1="31" y1="347.6" x2="34" y2="347.6" stroke="#222" stroke-width="0.8"/>
<line x1="32.4" y1="337.3" x2="34" y2="337.3" stroke="#222" stroke-width="0.7"/>
<text x="29.6" y="350.25" font-size="7.4" text-anchor="end" font-weight="normal" font-family='"Liberation Sans", sans-serif' fill="#222">30</text>
<line x1="31" y1="327" x2="34" y2="327" stroke="#222" stroke-width="0.8"/>
<line x1="32.4" y1="316.7" x2="34" y2="316.7" stroke="#222" stroke-width="0.7"/>
<text x="29.6" y="329.65" font-size="7.4" text-anchor="end" font-weight="normal" font-family='"Liberation Sans", sans-serif' fill="#222">35</text>
<line x1="31" y1="306.4" x2="34" y2="306.4" stroke="#222" stroke-width="0.8"/>
<line x1="32.4" y1="296.1" x2="34" y2="296.1" stroke="#222" stroke-width="0.7"/>
<text x="29.6" y="309.05" font-size="7.4" text-anchor="end" font-weight="normal" font-family='"Liberation Sans", sans-serif' fill="#222">40</text>
<line x1="31" y1="285.8" x2="34" y2="285.8" stroke="#222" stroke-width="0.8"/>
<line x1="32.4" y1="275.5" x2="34" y2="275.5" stroke="#222" stroke-width="0.7"/>
<text x="29.6" y="288.45" font-size="7.4" text-anchor="end" font-weight="normal" font-family='"Liberation Sans", sans-serif' fill="#222">45</text>
<line x1="31" y1="265.2" x2="34" y2="265.2" stroke="#222" stroke-width="0.8"/>
<text x="29.6" y="267.85" font-size="7.4" text-anchor="end" font-weight="normal" font-family='"Liberation Sans", sans-serif' fill="#222">50</text>
<line x1="34" y1="430" x2="34" y2="433" stroke="#222" stroke-width="0.8"/>
<line x1="51.2" y1="430" x2="51.2" y2="431.6" stroke="#222" stroke-width="0.7"/>
<text x="34" y="441.6" font-size="7.4" text-anchor="middle" font-weight="normal" font-family='"Liberation Sans", sans-serif' fill="#222">200</text>
<line x1="68.4" y1="430" x2="68.4" y2="433" stroke="#222" stroke-width="0.8"/>
<line x1="85.6" y1="430" x2="85.6" y2="431.6" stroke="#222" stroke-width="0.7"/>
<text x="68.4" y="441.6" font-size="7.4" text-anchor="middle" font-weight="normal" font-family='"Liberation Sans", sans-serif' fill="#222">300</text>
<line x1="102.8" y1="430" x2="102.8" y2="433" stroke="#222" stroke-width="0.8"/>
<line x1="120" y1="430" x2="120" y2="431.6" stroke="#222" stroke-width="0.7"/>
<text x="102.8" y="441.6" font-size="7.4" text-anchor="middle" font-weight="normal" font-family='"Liberation Sans", sans-serif' fill="#222">400</text>
<line x1="137.2" y1="430" x2="137.2" y2="433" stroke="#222" stroke-width="0.8"/>
<line x1="154.4" y1="430" x2="154.4" y2="431.6" stroke="#222" stroke-width="0.7"/>
<text x="137.2" y="441.6" font-size="7.4" text-anchor="middle" font-weight="normal" font-family='"Liberation Sans", sans-serif' fill="#222">500</text>
<line x1="171.6" y1="430" x2="171.6" y2="433" stroke="#222" stroke-width="0.8"/>
<line x1="188.8" y1="430" x2="188.8" y2="431.6" stroke="#222" stroke-width="0.7"/>
<text x="171.6" y="441.6" font-size="7.4" text-anchor="middle" font-weight="normal" font-family='"Liberation Sans", sans-serif' fill="#222">600</text>
<line x1="206" y1="430" x2="206" y2="433" stroke="#222" stroke-width="0.8"/>
<text x="206" y="441.6" font-size="7.4" text-anchor="middle" font-weight="normal" font-family='"Liberation Sans", sans-serif' fill="#222">700</text>
<text x="121" y="457" font-size="9" text-anchor="middle" font-weight="bold" font-family='"Liberation Sans", sans-serif' fill="#000">N (rpm)</text>
<text transform="translate(14.4,345.0) rotate(-90)" font-size="9" font-weight="bold" text-anchor="middle" font-family='"Liberation Sans", sans-serif'>Q (kg/h)</text>
<rect x="234" y="265.2" width="13.8" height="3.4" fill="#808080"/>
<rect x="234" y="268.6" width="13.8" height="2.33" fill="#ff0600"/>
<rect x="234" y="270.58" width="13.8" height="2.33" fill="#ff1300"/>
<rect x="234" y="272.56" width="13.8" height="2.33" fill="#ff2000"/>
<rect x="234" y="274.55" width="13.8" height="2.33" fill="#ff2d00"/>
<rect x="234" y="276.53" width="13.8" height="2.33" fill="#ff3900"/>
<rect x="234" y="278.51" width="13.8" height="2.33" fill="#ff4600"/>
<rect x="234" y="280.49" width="13.8" height="2.33" fill="#ff5300"/>
<rect x="234" y="282.48" width="13.8" height="2.33" fill="#ff6000"/>
<rect x="234" y="284.46" width="13.8" height="2.33" fill="#ff6c00"/>
<rect x="234" y="286.44" width="13.8" height="2.33" fill="#ff7900"/>
<rect x="234" y="288.42" width="13.8" height="2.33" fill="#ff8600"/>
<rect x="234" y="290.41" width="13.8" height="2.33" fill="#ff9300"/>
<rect x="234" y="292.39" width="13.8" height="2.33" fill="#ff9f00"/>
<rect x="234" y="294.37" width="13.8" height="2.33" fill="#ffac00"/>
<rect x="234" y="296.35" width="13.8" height="2.33" fill="#ffb900"/>
<rect x="234" y="298.34" width="13.8" height="2.33" fill="#ffc600"/>
<rect x="234" y="300.32" width="13.8" height="2.33" fill="#ffd200"/>
<rect x="234" y="302.3" width="13.8" height="2.33" fill="#ffdf00"/>
<rect x="234" y="304.28" width="13.8" height="2.33" fill="#ffec00"/>
<rect x="234" y="306.27" width="13.8" height="2.33" fill="#fff900"/>
<rect x="234" y="308.25" width="13.8" height="2.33" fill="#f9ff00"/>
<rect x="234" y="310.23" width="13.8" height="2.33" fill="#ecff00"/>
<rect x="234" y="312.21" width="13.8" height="2.33" fill="#dfff00"/>
<rect x="234" y="314.2" width="13.8" height="2.33" fill="#d2ff00"/>
<rect x="234" y="316.18" width="13.8" height="2.33" fill="#c6ff00"/>
<rect x="234" y="318.16" width="13.8" height="2.33" fill="#b9ff00"/>
<rect x="234" y="320.14" width="13.8" height="2.33" fill="#acff00"/>
<rect x="234" y="322.13" width="13.8" height="2.33" fill="#9fff00"/>
<rect x="234" y="324.11" width="13.8" height="2.33" fill="#93ff00"/>
<rect x="234" y="326.09" width="13.8" height="2.33" fill="#86ff00"/>
<rect x="234" y="328.07" width="13.8" height="2.33" fill="#79ff00"/>
<rect x="234" y="330.06" width="13.8" height="2.33" fill="#6cff00"/>
<rect x="234" y="332.04" width="13.8" height="2.33" fill="#60ff00"/>
<rect x="234" y="334.02" width="13.8" height="2.33" fill="#53ff00"/>
<rect x="234" y="336" width="13.8" height="2.33" fill="#46ff00"/>
<rect x="234" y="337.99" width="13.8" height="2.33" fill="#39ff00"/>
<rect x="234" y="339.97" width="13.8" height="2.33" fill="#2dff00"/>
<rect x="234" y="341.95" width="13.8" height="2.33" fill="#20ff00"/>
<rect x="234" y="343.94" width="13.8" height="2.33" fill="#13ff00"/>
<rect x="234" y="345.92" width="13.8" height="2.33" fill="#06ff00"/>
<rect x="234" y="347.9" width="13.8" height="2.33" fill="#00ff06"/>
<rect x="234" y="349.88" width="13.8" height="2.33" fill="#00ff13"/>
<rect x="234" y="351.87" width="13.8" height="2.33" fill="#00ff20"/>
<rect x="234" y="353.85" width="13.8" height="2.33" fill="#00ff2d"/>
<rect x="234" y="355.83" width="13.8" height="2.33" fill="#00ff39"/>
<rect x="234" y="357.81" width="13.8" height="2.33" fill="#00ff46"/>
<rect x="234" y="359.8" width="13.8" height="2.33" fill="#00ff53"/>
<rect x="234" y="361.78" width="13.8" height="2.33" fill="#00ff60"/>
<rect x="234" y="363.76" width="13.8" height="2.33" fill="#00ff6c"/>
<rect x="234" y="365.74" width="13.8" height="2.33" fill="#00ff79"/>
<rect x="234" y="367.73" width="13.8" height="2.33" fill="#00ff86"/>
<rect x="234" y="369.71" width="13.8" height="2.33" fill="#00ff93"/>
<rect x="234" y="371.69" width="13.8" height="2.33" fill="#00ff9f"/>
<rect x="234" y="373.67" width="13.8" height="2.33" fill="#00ffac"/>
<rect x="234" y="375.66" width="13.8" height="2.33" fill="#00ffb9"/>
<rect x="234" y="377.64" width="13.8" height="2.33" fill="#00ffc6"/>
<rect x="234" y="379.62" width="13.8" height="2.33" fill="#00ffd2"/>
<rect x="234" y="381.6" width="13.8" height="2.33" fill="#00ffdf"/>
<rect x="234" y="383.59" width="13.8" height="2.33" fill="#00ffec"/>
<rect x="234" y="385.57" width="13.8" height="2.33" fill="#00fff9"/>
<rect x="234" y="387.55" width="13.8" height="2.33" fill="#00f9ff"/>
<rect x="234" y="389.53" width="13.8" height="2.33" fill="#00ecff"/>
<rect x="234" y="391.52" width="13.8" height="2.33" fill="#00dfff"/>
<rect x="234" y="393.5" width="13.8" height="2.33" fill="#00d2ff"/>
<rect x="234" y="395.48" width="13.8" height="2.33" fill="#00c6ff"/>
<rect x="234" y="397.46" width="13.8" height="2.33" fill="#00b9ff"/>
<rect x="234" y="399.45" width="13.8" height="2.33" fill="#00acff"/>
<rect x="234" y="401.43" width="13.8" height="2.33" fill="#009fff"/>
<rect x="234" y="403.41" width="13.8" height="2.33" fill="#0093ff"/>
<rect x="234" y="405.39" width="13.8" height="2.33" fill="#0086ff"/>
<rect x="234" y="407.38" width="13.8" height="2.33" fill="#0079ff"/>
<rect x="234" y="409.36" width="13.8" height="2.33" fill="#006cff"/>
<rect x="234" y="411.34" width="13.8" height="2.33" fill="#0060ff"/>
<rect x="234" y="413.32" width="13.8" height="2.33" fill="#0053ff"/>
<rect x="234" y="415.31" width="13.8" height="2.33" fill="#0046ff"/>
<rect x="234" y="417.29" width="13.8" height="2.33" fill="#0039ff"/>
<rect x="234" y="419.27" width="13.8" height="2.33" fill="#002dff"/>
<rect x="234" y="421.25" width="13.8" height="2.33" fill="#0020ff"/>
<rect x="234" y="423.24" width="13.8" height="2.33" fill="#0013ff"/>
<rect x="234" y="425.22" width="13.8" height="2.33" fill="#0006ff"/>
<rect x="234" y="427.2" width="13.8" height="3.4" fill="#000"/>
<line x1="247.8" y1="427.2" x2="250" y2="427.2" stroke="#333" stroke-width="0.7"/>
<text x="252.6" y="429.92" font-size="7.6" text-anchor="start" font-weight="normal" font-family='"Liberation Sans", sans-serif' fill="#222">122</text>
<line x1="247.8" y1="407.38" x2="250" y2="407.38" stroke="#333" stroke-width="0.7"/>
<text x="252.6" y="410.1" font-size="7.6" text-anchor="start" font-weight="normal" font-family='"Liberation Sans", sans-serif' fill="#222">127</text>
<line x1="247.8" y1="387.55" x2="250" y2="387.55" stroke="#333" stroke-width="0.7"/>
<text x="252.6" y="390.27" font-size="7.6" text-anchor="start" font-weight="normal" font-family='"Liberation Sans", sans-serif' fill="#222">132</text>
<line x1="247.8" y1="367.73" x2="250" y2="367.73" stroke="#333" stroke-width="0.7"/>
<text x="252.6" y="370.45" font-size="7.6" text-anchor="start" font-weight="normal" font-family='"Liberation Sans", sans-serif' fill="#222">137</text>
<line x1="247.8" y1="347.9" x2="250" y2="347.9" stroke="#333" stroke-width="0.7"/>
<text x="252.6" y="350.62" font-size="7.6" text-anchor="start" font-weight="normal" font-family='"Liberation Sans", sans-serif' fill="#222">142</text>
<line x1="247.8" y1="328.07" x2="250" y2="328.07" stroke="#333" stroke-width="0.7"/>
<text x="252.6" y="330.8" font-size="7.6" text-anchor="start" font-weight="normal" font-family='"Liberation Sans", sans-serif' fill="#222">147</text>
<line x1="247.8" y1="308.25" x2="250" y2="308.25" stroke="#333" stroke-width="0.7"/>
<text x="252.6" y="310.97" font-size="7.6" text-anchor="start" font-weight="normal" font-family='"Liberation Sans", sans-serif' fill="#222">152</text>
<line x1="247.8" y1="288.42" x2="250" y2="288.42" stroke="#333" stroke-width="0.7"/>
<text x="252.6" y="291.15" font-size="7.6" text-anchor="start" font-weight="normal" font-family='"Liberation Sans", sans-serif' fill="#222">157</text>
<line x1="247.8" y1="268.6" x2="250" y2="268.6" stroke="#333" stroke-width="0.7"/>
<text x="252.6" y="271.32" font-size="7.6" text-anchor="start" font-weight="normal" font-family='"Liberation Sans", sans-serif' fill="#222">162</text>
<text x="246" y="260" font-size="9" text-anchor="middle" font-weight="bold" font-family='"Liberation Sans", sans-serif' fill="#000">T_com (°C)</text>
<text x="284.2" y="246" font-size="11.4" text-anchor="start" font-weight="bold" font-family='"Liberation Serif", serif' fill="#000">(d)</text>
<g clip-path="url(#clipd)">
<rect x="306.6" y="263.3" width="175" height="168" fill="#0000ff"/>
<path d="M307.6 263.3 481.6 263.3 481.6 431.3 307.9 431.3 306.6 428.65 306.6 263.3Z" fill="#0005ff"/>
<path d="M307.6 263.3 481.6 263.3 481.6 431.3 309.88 431.3 306.6 424.69 306.6 263.3Z" fill="#0010ff"/>
<path d="M307.6 263.3 481.6 263.3 481.6 431.3 311.87 431.3 306.6 420.76 306.6 263.3Z" fill="#001bff"/>
<path d="M307.6 263.3 481.6 263.3 481.6 431.3 313.88 431.3 306.6 416.88 306.6 263.3Z" fill="#0025ff"/>
<path d="M307.6 263.3 481.6 263.3 481.6 431.3 315.9 431.3 306.6 413.03 306.6 263.3Z" fill="#0030ff"/>
<path d="M307.6 263.3 481.6 263.3 481.6 431.3 317.93 431.3 312.43 420.3 306.6 409.22 306.6 263.3Z" fill="#003aff"/>
<path d="M307.6 263.3 481.6 263.3 481.6 431.3 319.98 431.3 313.45 418.3 306.6 405.44 306.6 263.3Z" fill="#0045ff"/>
<path d="M307.6 263.3 481.6 263.3 481.6 431.3 322.05 431.3 314.48 416.3 306.6 401.69 306.6 263.3Z" fill="#0050ff"/>
<path d="M307.6 263.3 481.6 263.3 481.6 431.3 324.13 431.3 315.51 414.3 306.6 397.97 306.6 263.3Z" fill="#005aff"/>
<path d="M307.6 263.3 481.6 263.3 481.6 431.3 326.22 431.3 317.08 413.3 306.6 394.28 306.6 263.3Z" fill="#0065ff"/>
<path d="M307.6 263.3 481.6 263.3 481.6 431.3 328.34 431.3 318.13 411.3 306.6 390.61 306.6 263.3Z" fill="#0070ff"/>
<path d="M307.6 263.3 481.6 263.3 481.6 431.3 330.47 431.3 324.97 420.3 319.19 409.3 313.13 398.3 306.6 386.96 306.6 263.3Z" fill="#007aff"/>
<path d="M307.6 263.3 481.6 263.3 481.6 431.3 332.61 431.3 326.6 419.3 320.25 407.3 313.58 395.3 306.6 383.33 306.6 263.3Z" fill="#0085ff"/>
<path d="M307.6 263.3 481.6 263.3 481.6 431.3 334.77 431.3 328.24 418.3 321.33 405.3 314.03 392.3 306.6 379.73 306.6 263.3Z" fill="#008fff"/>
<path d="M307.6 263.3 481.6 263.3 481.6 431.3 336.95 431.3 329.9 417.3 322.4 403.3 314.47 389.3 306.6 376.14 306.6 263.3Z" fill="#009aff"/>
<path d="M307.6 263.3 481.6 263.3 481.6 431.3 339.15 431.3 332.1 417.3 324.05 402.3 315.49 387.3 306.6 372.57 306.6 263.3Z" fill="#00a5ff"/>
<path d="M307.6 263.3 481.6 263.3 481.6 431.3 341.37 431.3 333.26 415.3 325.14 400.3 315.93 384.3 306.6 369.02 306.6 263.3Z" fill="#00afff"/>
<path d="M307.6 263.3 481.6 263.3 481.6 431.3 343.6 431.3 334.96 414.3 326.25 398.3 316.97 382.3 306.6 365.48 306.6 263.3Z" fill="#00baff"/>
<path d="M307.6 263.3 481.6 263.3 481.6 431.3 345.86 431.3 337.21 414.3 327.36 396.3 317.42 379.3 306.6 361.95 306.6 263.3Z" fill="#00c5ff"/>
<path d="M307.6 263.3 481.6 263.3 481.6 431.3 348.13 431.3 338.95 413.3 329.06 395.3 317.86 376.3 306.6 358.44 306.6 263.3Z" fill="#00cfff"/>
<path d="M307.6 263.3 481.6 263.3 481.6 431.3 350.42 431.3 340.7 412.3 330.19 393.3 318.91 374.3 306.6 354.94 306.6 263.3Z" fill="#00daff"/>
<path d="M307.6 263.3 481.6 263.3 481.6 431.3 352.73 431.3 342.46 411.3 331.34 391.3 319.36 371.3 306.6 351.45 306.6 263.3Z" fill="#00e4ff"/>
<path d="M307.6 263.3 481.6 263.3 481.6 431.3 355.07 431.3 344.25 410.3 332.49 389.3 319.8 368.3 306.6 347.96 306.6 263.3Z" fill="#00efff"/>
<path d="M307.6 263.3 481.6 263.3 481.6 431.3 357.42 431.3 346.04 409.3 333.65 387.3 320.25 365.3 306.6 344.49 306.6 263.3Z" fill="#00faff"/>
<path d="M307.6 263.3 481.6 263.3 481.6 431.3 359.8 431.3 348.4 409.3 335.42 386.3 321.33 363.3 306.6 341.02 306.6 263.3Z" fill="#00fffa"/>
<path d="M307.6 263.3 481.6 263.3 481.6 431.3 362.2 431.3 356.09 419.3 350.24 408.3 343.57 396.3 336.6 384.3 329.34 372.3 321.78 360.3 306.6 337.56 306.6 263.3Z" fill="#00ffef"/>
<path d="M307.6 263.3 481.6 263.3 481.6 431.3 364.62 431.3 358.5 419.3 352.09 407.3 344.81 394.3 337.8 382.3 330.49 370.3 322.88 358.3 314.97 346.3 306.6 334.1 306.6 263.3Z" fill="#00ffe4"/>
<path d="M307.6 263.3 481.6 263.3 481.6 431.3 367.06 431.3 360.93 419.3 353.96 406.3 346.65 393.3 339 380.3 331.02 367.3 323.34 355.3 315.36 343.3 306.6 330.65 306.6 263.3Z" fill="#00ffda"/>
<path d="M307.6 263.3 481.6 263.3 481.6 431.3 369.53 431.3 362.86 418.3 355.85 405.3 347.92 391.3 340.22 378.3 332.19 365.3 323.81 352.3 315.07 339.3 306.6 327.19 306.6 263.3Z" fill="#00ffcf"/>
<path d="M307.6 263.3 481.6 263.3 481.6 431.3 372.02 431.3 365.33 418.3 357.75 404.3 350.37 391.3 342.06 377.3 333.36 363.3 324.93 350.3 316.15 337.3 306.6 323.75 306.6 263.3Z" fill="#00ffc5"/>
<path d="M307.6 263.3 481.6 263.3 481.6 431.3 374.54 431.3 367.3 417.3 359.67 403.3 351.67 389.3 343.3 375.3 334.55 361.3 325.41 347.3 315.86 333.3 306.6 320.3 306.6 263.3Z" fill="#00ffba"/>
<path d="M307.6 263.3 481.6 263.3 481.6 431.3 377.09 431.3 369.82 417.3 361.61 402.3 352.99 387.3 344.55 373.3 335.1 358.3 325.88 344.3 316.26 330.3 306.6 316.85 306.6 263.3Z" fill="#00ffaf"/>
<path d="M307.6 263.3 481.6 263.3 481.6 431.3 379.66 431.3 371.83 416.3 363.57 401.3 354.9 386.3 345.82 371.3 336.31 356.3 326.36 341.3 316.66 327.3 306.6 313.41 306.6 263.3Z" fill="#00ffa5"/>
<path d="M307.6 263.3 481.6 263.3 481.6 431.3 382.25 431.3 374.4 416.3 365.55 400.3 356.24 384.3 347.09 369.3 337.53 354.3 327.53 339.3 317.07 324.3 306.6 309.96 306.6 263.3Z" fill="#00ff9a"/>
<path d="M307.6 263.3 481.6 263.3 481.6 431.3 384.88 431.3 376.45 415.3 367.55 399.3 358.19 383.3 348.38 367.3 338.1 351.3 328.02 336.3 317.48 321.3 306.6 306.5 306.6 263.3Z" fill="#00ff8f"/>
<path d="M307.6 263.3 481.6 263.3 481.6 431.3 387.53 431.3 379.07 415.3 369.57 398.3 360.16 382.3 349.68 365.3 339.34 349.3 328.52 333.3 317.91 318.3 306.6 303.05 306.6 263.3Z" fill="#00ff85"/>
<path d="M307.6 263.3 481.6 263.3 481.6 431.3 390.22 431.3 381.17 414.3 371.6 397.3 361.55 380.3 351 363.3 339.93 346.3 329.03 330.3 317.61 314.3 306.6 299.59 306.6 263.3Z" fill="#00ff7a"/>
<path d="M307.6 263.3 481.6 263.3 481.6 431.3 392.93 431.3 383.84 414.3 373.66 396.3 362.95 378.3 352.32 361.3 341.2 344.3 329.54 327.3 318.04 311.3 306.6 296.13 306.6 263.3Z" fill="#00ff70"/>
<path d="M307.6 263.3 481.6 263.3 481.6 431.3 395.68 431.3 385.98 413.3 376.32 396.3 365.58 378.3 354.3 360.3 342.48 342.3 330.77 325.3 318.48 308.3 306.6 292.65 306.6 263.3Z" fill="#00ff65"/>
<path d="M307.6 263.3 481.6 263.3 481.6 431.3 398.45 431.3 388.15 412.3 377.84 394.3 367.01 376.3 355.02 357.3 343.09 339.3 331.3 322.3 318.93 305.3 306.6 289.18 306.6 263.3Z" fill="#00ff5a"/>
<path d="M307.6 263.3 481.6 263.3 481.6 431.3 401.26 431.3 390.9 412.3 379.96 393.3 368.45 374.3 356.38 355.3 344.4 337.3 331.84 319.3 319.39 302.3 306.6 285.69 306.6 263.3Z" fill="#00ff50"/>
<path d="M307.6 263.3 481.6 263.3 481.6 431.3 404.11 431.3 393.12 411.3 382.1 392.3 369.91 372.3 357.76 353.3 345.03 334.3 332.39 316.3 319.6 298.95 306.6 282.19 306.6 263.3Z" fill="#00ff45"/>
<path d="M307.6 263.3 481.6 263.3 481.6 431.3 406.99 431.3 395.93 411.3 384.26 391.3 372.01 371.3 359.16 351.3 346.37 332.3 332.95 313.3 319.59 295.3 306.6 278.69 306.6 263.3Z" fill="#00ff3a"/>
<path d="M307.6 263.3 481.6 263.3 481.6 431.3 409.91 431.3 398.77 411.3 386.44 390.3 374.13 370.3 360.57 349.3 347.02 329.3 333.52 310.3 320.08 292.3 306.6 275.17 306.6 263.3Z" fill="#00ff30"/>
<path d="M307.6 263.3 481.6 263.3 481.6 431.3 412.86 431.3 401.07 410.3 388.65 389.3 375.63 368.3 361.99 347.3 348.38 327.3 334.1 307.3 320.58 289.3 306.6 271.64 306.6 263.3Z" fill="#00ff25"/>
<path d="M307.6 263.3 481.6 263.3 481.6 431.3 415.86 431.3 405.7 413.3 395.11 395.3 384.09 377.3 372 358.3 355.3 333.3 339.08 310.3 322.65 288.3 306.6 268.09 306.6 263.3Z" fill="#00ff1b"/>
<path d="M307.6 263.3 481.6 263.3 481.6 431.3 418.89 431.3 406.91 410.3 393.74 388.3 379.97 366.3 366.23 345.3 353.25 326.3 340.44 308.3 323.19 285.3 306.6 264.53 306.6 263.3Z" fill="#00ff10"/>
<path d="M308.6 263.3 481.6 263.3 481.6 431.3 421.97 431.3 409.29 409.3 395.4 386.3 380.88 363.3 366.36 341.3 351.86 320.3 337.4 300.3 322.97 281.3 308.54 263.3Z" fill="#00ff05"/>
<path d="M311.6 263.3 481.6 263.3 481.6 431.3 425.08 431.3 412.3 409.3 398.32 386.3 383.74 363.3 369.2 341.3 354.71 320.3 340.27 300.3 325.88 281.3 311.52 263.3Z" fill="#05ff00"/>
<path d="M314.6 263.3 481.6 263.3 481.6 431.3 428.25 431.3 414.74 408.3 400.65 385.3 385.99 362.3 371.39 340.3 356.86 319.3 342.42 299.3 328.04 280.3 314.52 263.3Z" fill="#10ff00"/>
<path d="M317.6 263.3 481.6 263.3 481.6 431.3 431.46 431.3 417.81 408.3 403.63 385.3 388.9 362.3 374.27 340.3 359.75 319.3 345.33 299.3 330.99 280.3 317.54 263.3Z" fill="#1bff00"/>
<path d="M320.6 263.3 481.6 263.3 481.6 431.3 434.72 431.3 420.93 408.3 406.01 384.3 391.85 362.3 377.19 340.3 362.66 319.3 348.26 299.3 333.97 280.3 320.57 263.3Z" fill="#25ff00"/>
<path d="M324.6 263.3 481.6 263.3 481.6 431.3 438.03 431.3 424.08 408.3 409.05 384.3 394.17 361.3 379.44 339.3 364.89 318.3 351.21 299.3 336.96 280.3 323.63 263.3Z" fill="#30ff00"/>
<path d="M327.6 263.3 481.6 263.3 481.6 431.3 441.39 431.3 426.03 406.3 411.49 383.3 396.51 360.3 381.73 338.3 367.13 317.3 353.45 298.3 339.98 280.3 326.7 263.3Z" fill="#3aff00"/>
<path d="M330.6 263.3 481.6 263.3 481.6 431.3 444.81 431.3 429.26 406.3 413.95 382.3 398.87 359.3 384.03 337.3 370.11 317.3 356.44 298.3 343.01 280.3 329.79 263.3Z" fill="#45ff00"/>
<path d="M333.6 263.3 481.6 263.3 481.6 431.3 448.28 431.3 433.17 407.3 417.08 382.3 401.93 359.3 387.04 337.3 373.11 317.3 359.46 298.3 346.06 280.3 332.91 263.3Z" fill="#50ff00"/>
<path d="M336.6 263.3 481.6 263.3 481.6 431.3 451.81 431.3 433.92 403.3 418.29 379.3 403 356.3 388.7 335.3 374.72 315.3 361.04 296.3 348.38 279.3 336.04 263.3Z" fill="#5aff00"/>
<path d="M339.6 263.3 481.6 263.3 481.6 431.3 455.41 431.3 420.16 377.3 405.43 355.3 391.08 334.3 377.06 314.3 364.1 296.3 351.48 279.3 339.19 263.3Z" fill="#65ff00"/>
<path d="M342.6 263.3 481.6 263.3 481.6 431.3 459.07 431.3 421.38 374.3 392.78 332.3 379.43 313.3 366.46 295.3 353.85 278.3 342.36 263.3Z" fill="#70ff00"/>
<path d="M345.6 263.3 481.6 263.3 481.6 431.3 462.8 431.3 421.25 369.3 393.8 329.3 368.84 294.3 356.99 278.3 345.55 263.3Z" fill="#7aff00"/>
<path d="M349.6 263.3 481.6 263.3 481.6 431.3 466.6 431.3 419.05 361.3 394.83 326.3 370.51 292.3 348.76 263.3Z" fill="#85ff00"/>
<path d="M352.6 263.3 481.6 263.3 481.6 431.3 470.47 431.3 416.1 352.3 395.17 322.3 372.2 290.3 351.99 263.3Z" fill="#8fff00"/>
<path d="M355.6 263.3 481.6 263.3 481.6 431.3 474.43 431.3 457.6 407.45 415.18 346.3 394.81 317.3 373.92 288.3 355.24 263.3Z" fill="#9aff00"/>
<path d="M358.6 263.3 481.6 263.3 481.6 431.3 478.47 431.3 456.6 400.81 393.74 311.3 374.93 285.3 358.51 263.3Z" fill="#a5ff00"/>
<path d="M362.6 263.3 481.6 263.3 481.6 429.97 469.6 413.71 455.6 394.27 391.95 304.3 375.96 282.3 361.8 263.3Z" fill="#afff00"/>
<path d="M365.6 263.3 481.6 263.3 481.6 424.48 458.6 393.35 395.2 304.3 379.23 282.3 365.11 263.3Z" fill="#baff00"/>
<path d="M368.6 263.3 481.6 263.3 481.6 419.08 469.6 403.2 455.6 384.15 395.59 300.3 368.44 263.3Z" fill="#c5ff00"/>
<path d="M372.6 263.3 481.6 263.3 481.6 413.76 468.6 396.71 452.6 375.05 395.99 296.3 371.79 263.3Z" fill="#cfff00"/>
<path d="M375.6 263.3 481.6 263.3 481.6 408.5 467.6 390.28 451.6 368.75 396.42 292.3 375.16 263.3Z" fill="#daff00"/>
<path d="M378.6 263.3 481.6 263.3 481.6 403.31 466.6 383.92 449.6 361.13 396.13 287.3 378.55 263.3Z" fill="#e4ff00"/>
<path d="M382.6 263.3 481.6 263.3 481.6 398.18 466.6 378.92 448.6 354.9 381.96 263.3Z" fill="#efff00"/>
<path d="M385.6 263.3 481.6 263.3 481.6 393.1 466.6 373.95 448.6 350.05 385.4 263.3Z" fill="#faff00"/>
<path d="M389.6 263.3 481.6 263.3 481.6 388.06 465.6 367.71 447.6 343.87 388.85 263.3Z" fill="#fffa00"/>
<path d="M392.6 263.3 481.6 263.3 481.6 383.05 465.6 362.8 447.6 339.04 428.6 313.24 392.32 263.3Z" fill="#ffef00"/>
<path d="M396.6 263.3 481.6 263.3 481.6 378.08 465.6 357.9 447.6 334.21 428.6 308.45 395.81 263.3Z" fill="#ffe400"/>
<path d="M399.6 263.3 481.6 263.3 481.6 373.15 465.6 353.02 448.6 330.71 429.6 305.01 399.32 263.3Z" fill="#ffda00"/>
<path d="M403.6 263.3 481.6 263.3 481.6 368.23 465.6 348.15 448.6 325.87 429.6 300.18 402.85 263.3Z" fill="#ffcf00"/>
<path d="M406.6 263.3 481.6 263.3 481.6 363.34 466.6 344.57 449.6 322.36 430.6 296.7 406.4 263.3Z" fill="#ffc500"/>
<path d="M410.6 263.3 481.6 263.3 481.6 358.46 466.6 339.7 450.6 318.83 432.6 294.55 409.97 263.3Z" fill="#ffba00"/>
<path d="M413.6 263.3 481.6 263.3 481.6 353.59 467.6 336.12 451.6 315.28 434.55 292.3 413.56 263.3Z" fill="#ffaf00"/>
<path d="M417.6 263.3 481.6 263.3 481.6 348.74 467.6 331.25 452.6 311.72 436.6 290.17 417.17 263.3Z" fill="#ffa500"/>
<path d="M421.6 263.3 481.6 263.3 481.6 343.89 467.6 326.38 453.6 308.14 438.14 287.3 420.8 263.3Z" fill="#ff9a00"/>
<path d="M424.6 263.3 481.6 263.3 481.6 339.04 468.6 322.78 455.18 305.3 440.6 285.67 424.45 263.3Z" fill="#ff8f00"/>
<path d="M428.6 263.3 481.6 263.3 481.6 334.19 469.6 319.16 456.6 302.24 442.6 283.38 428.11 263.3Z" fill="#ff8500"/>
<path d="M432.6 263.3 481.6 263.3 481.6 329.33 470.41 315.3 458.13 299.3 445.51 282.3 431.8 263.3Z" fill="#ff7a00"/>
<path d="M435.6 263.3 481.6 263.3 481.6 324.47 470.6 310.62 459.6 296.26 447.76 280.3 435.5 263.3Z" fill="#ff7000"/>
<path d="M439.6 263.3 481.6 263.3 481.6 319.59 471.6 306.96 461.15 293.3 450.6 279.08 439.22 263.3Z" fill="#ff6500"/>
<path d="M443.6 263.3 481.6 263.3 481.6 314.69 472.6 303.29 462.68 290.3 442.96 263.3Z" fill="#ff5a00"/>
<path d="M447.6 263.3 481.6 263.3 481.6 309.77 464.6 287.78 446.71 263.3Z" fill="#ff5000"/>
<path d="M450.6 263.3 481.6 263.3 481.6 304.83 466.56 285.3 450.49 263.3Z" fill="#ff4500"/>
<path d="M454.6 263.3 481.6 263.3 481.6 299.86 468.15 282.3 454.28 263.3Z" fill="#ff3a00"/>
<path d="M458.6 263.3 481.6 263.3 481.6 294.85 469.75 279.3 458.09 263.3Z" fill="#ff3000"/>
<path d="M462.6 263.3 481.6 263.3 481.6 289.8 471.6 276.6 461.91 263.3Z" fill="#ff2500"/>
<path d="M466.6 263.3 481.6 263.3 481.6 284.71 465.75 263.3Z" fill="#ff1b00"/>
<path d="M470.6 263.3 481.6 263.3 481.6 279.57 469.6 263.3Z" fill="#ff1000"/>
<path d="M473.6 263.3 481.6 263.3 481.6 274.37 473.47 263.3Z" fill="#ff0500"/>
<path d="M477.6 263.3 481.6 263.3 481.6 269.11 477.35 263.3Z" fill="#ff0000"/>
</g>
<g clip-path="url(#clipd)" fill="none" stroke="#3c3c3c" stroke-width="0.5">
<path d="M332.61 431.3 326.6 419.3 320.25 407.3 313.58 395.3 306.6 383.33"/>
<path d="M359.8 431.3 354.23 420.3 348.4 409.3 342.33 398.3 335.42 386.3 328.21 374.3 321.33 363.3 314.2 352.3 306.6 341.02"/>
<path d="M390.22 431.3 381.17 414.3 371.6 397.3 361.55 380.3 351 363.3 339.93 346.3 329.03 330.3 317.61 314.3 306.6 299.59"/>
<path d="M425.08 431.3 412.3 409.3 398.32 386.3 383.74 363.3 369.2 341.3 354.71 320.3 340.27 300.3 325.88 281.3 311.52 263.3"/>
<path d="M466.6 431.3 419.05 361.3 394.83 326.3 382.08 308.3 370.51 292.3 359.4 277.3 348.76 263.3"/>
<path d="M481.6 388.06 465.6 367.71 447.6 343.87 429.6 319.39 388.85 263.3"/>
<path d="M481.6 329.33 470.41 315.3 458.13 299.3 445.51 282.3 431.8 263.3"/>
</g>
<clipPath id="hrd"><path d="M330.6 263.3 368.44 263.3 395.59 300.3 455.6 384.15 469.6 403.2 481.6 419.08 481.6 431.3 444.81 431.3 429.26 406.3 413.95 382.3 398.87 359.3 384.03 337.3 370.11 317.3 356.44 298.3 343.01 280.3 329.79 263.3Z"/></clipPath>
<g clip-path="url(#clipd)"><g clip-path="url(#hrd)"><path d="M227.57 432 L299.23 260M239.42 432 L311.08 260M251.27 432 L322.93 260M263.12 432 L334.78 260M274.97 432 L346.63 260M286.82 432 L358.48 260M298.67 432 L370.33 260M310.52 432 L382.18 260M322.37 432 L394.03 260M334.22 432 L405.88 260M346.07 432 L417.73 260M357.92 432 L429.58 260M369.77 432 L441.43 260M381.62 432 L453.28 260M393.47 432 L465.13 260M405.32 432 L476.98 260M417.17 432 L488.83 260M429.02 432 L500.68 260M440.87 432 L512.53 260M452.72 432 L524.38 260M464.57 432 L536.23 260M476.42 432 L548.08 260M488.27 432 L559.93 260M500.12 432 L571.78 260" stroke="#1a1a1a" stroke-width="0.9" fill="none"/></g></g>
<g clip-path="url(#clipd)" fill="none" stroke="#000" stroke-width="0.9">
<path d="M444.81 431.3 429.26 406.3 413.95 382.3 398.87 359.3 384.03 337.3 370.11 317.3 356.44 298.3 343.01 280.3 329.79 263.3"/>
<path d="M481.6 419.08 469.6 403.2 455.6 384.15 395.59 300.3 381.04 280.3 368.44 263.3"/>
</g>
<rect x="308.6" y="265.3" width="171" height="164.3" fill="none" stroke="#444" stroke-width="0.9"/>
<line x1="308.2" y1="429.8" x2="480" y2="429.8" stroke="#333" stroke-width="0.9"/>
<line x1="305.6" y1="429.6" x2="308.6" y2="429.6" stroke="#222" stroke-width="0.8"/>
<line x1="307" y1="414.66" x2="308.6" y2="414.66" stroke="#222" stroke-width="0.7"/>
<text x="304.4" y="432.25" font-size="7.4" text-anchor="end" font-weight="normal" font-family='"Liberation Sans", sans-serif' fill="#222">90</text>
<line x1="305.6" y1="399.73" x2="308.6" y2="399.73" stroke="#222" stroke-width="0.8"/>
<line x1="307" y1="384.79" x2="308.6" y2="384.79" stroke="#222" stroke-width="0.7"/>
<text x="304.4" y="402.38" font-size="7.4" text-anchor="end" font-weight="normal" font-family='"Liberation Sans", sans-serif' fill="#222">100</text>
<line x1="305.6" y1="369.85" x2="308.6" y2="369.85" stroke="#222" stroke-width="0.8"/>
<line x1="307" y1="354.92" x2="308.6" y2="354.92" stroke="#222" stroke-width="0.7"/>
<text x="304.4" y="372.5" font-size="7.4" text-anchor="end" font-weight="normal" font-family='"Liberation Sans", sans-serif' fill="#222">110</text>
<line x1="305.6" y1="339.98" x2="308.6" y2="339.98" stroke="#222" stroke-width="0.8"/>
<line x1="307" y1="325.05" x2="308.6" y2="325.05" stroke="#222" stroke-width="0.7"/>
<text x="304.4" y="342.63" font-size="7.4" text-anchor="end" font-weight="normal" font-family='"Liberation Sans", sans-serif' fill="#222">120</text>
<line x1="305.6" y1="310.11" x2="308.6" y2="310.11" stroke="#222" stroke-width="0.8"/>
<line x1="307" y1="295.17" x2="308.6" y2="295.17" stroke="#222" stroke-width="0.7"/>
<text x="304.4" y="312.76" font-size="7.4" text-anchor="end" font-weight="normal" font-family='"Liberation Sans", sans-serif' fill="#222">130</text>
<line x1="305.6" y1="280.24" x2="308.6" y2="280.24" stroke="#222" stroke-width="0.8"/>
<line x1="307" y1="265.3" x2="308.6" y2="265.3" stroke="#222" stroke-width="0.7"/>
<text x="304.4" y="282.89" font-size="7.4" text-anchor="end" font-weight="normal" font-family='"Liberation Sans", sans-serif' fill="#222">140</text>
<line x1="327.6" y1="429.6" x2="327.6" y2="432.6" stroke="#222" stroke-width="0.8"/>
<line x1="308.6" y1="429.6" x2="308.6" y2="431.2" stroke="#222" stroke-width="0.7"/>
<text x="327.6" y="441.2" font-size="7.4" text-anchor="middle" font-weight="normal" font-family='"Liberation Sans", sans-serif' fill="#222">300</text>
<line x1="365.6" y1="429.6" x2="365.6" y2="432.6" stroke="#222" stroke-width="0.8"/>
<line x1="346.6" y1="429.6" x2="346.6" y2="431.2" stroke="#222" stroke-width="0.7"/>
<text x="365.6" y="441.2" font-size="7.4" text-anchor="middle" font-weight="normal" font-family='"Liberation Sans", sans-serif' fill="#222">400</text>
<line x1="403.6" y1="429.6" x2="403.6" y2="432.6" stroke="#222" stroke-width="0.8"/>
<line x1="384.6" y1="429.6" x2="384.6" y2="431.2" stroke="#222" stroke-width="0.7"/>
<text x="403.6" y="441.2" font-size="7.4" text-anchor="middle" font-weight="normal" font-family='"Liberation Sans", sans-serif' fill="#222">500</text>
<line x1="441.6" y1="429.6" x2="441.6" y2="432.6" stroke="#222" stroke-width="0.8"/>
<line x1="422.6" y1="429.6" x2="422.6" y2="431.2" stroke="#222" stroke-width="0.7"/>
<text x="441.6" y="441.2" font-size="7.4" text-anchor="middle" font-weight="normal" font-family='"Liberation Sans", sans-serif' fill="#222">600</text>
<line x1="479.6" y1="429.6" x2="479.6" y2="432.6" stroke="#222" stroke-width="0.8"/>
<line x1="460.6" y1="429.6" x2="460.6" y2="431.2" stroke="#222" stroke-width="0.7"/>
<text x="479.6" y="441.2" font-size="7.4" text-anchor="middle" font-weight="normal" font-family='"Liberation Sans", sans-serif' fill="#222">700</text>
<text x="397" y="452.9" font-size="9" text-anchor="middle" font-weight="bold" font-family='"Liberation Sans", sans-serif' fill="#000">N (rpm)</text>
<text transform="translate(286.6,348.0) rotate(-90)" font-size="9" font-weight="bold" text-anchor="middle" font-family='"Liberation Sans", sans-serif'>Tb (°C)</text>
<rect x="507.2" y="265.2" width="13.8" height="3.4" fill="#808080"/>
<rect x="507.2" y="268.6" width="13.8" height="1.99" fill="#ff0500"/>
<rect x="507.2" y="270.24" width="13.8" height="1.99" fill="#ff1000"/>
<rect x="507.2" y="271.89" width="13.8" height="1.99" fill="#ff1b00"/>
<rect x="507.2" y="273.53" width="13.8" height="1.99" fill="#ff2500"/>
<rect x="507.2" y="275.17" width="13.8" height="1.99" fill="#ff3000"/>
<rect x="507.2" y="276.82" width="13.8" height="1.99" fill="#ff3a00"/>
<rect x="507.2" y="278.46" width="13.8" height="1.99" fill="#ff4500"/>
<rect x="507.2" y="280.11" width="13.8" height="1.99" fill="#ff5000"/>
<rect x="507.2" y="281.75" width="13.8" height="1.99" fill="#ff5a00"/>
<rect x="507.2" y="283.39" width="13.8" height="1.99" fill="#ff6500"/>
<rect x="507.2" y="285.04" width="13.8" height="1.99" fill="#ff7000"/>
<rect x="507.2" y="286.68" width="13.8" height="1.99" fill="#ff7a00"/>
<rect x="507.2" y="288.32" width="13.8" height="1.99" fill="#ff8500"/>
<rect x="507.2" y="289.97" width="13.8" height="1.99" fill="#ff8f00"/>
<rect x="507.2" y="291.61" width="13.8" height="1.99" fill="#ff9a00"/>
<rect x="507.2" y="293.26" width="13.8" height="1.99" fill="#ffa500"/>
<rect x="507.2" y="294.9" width="13.8" height="1.99" fill="#ffaf00"/>
<rect x="507.2" y="296.54" width="13.8" height="1.99" fill="#ffba00"/>
<rect x="507.2" y="298.19" width="13.8" height="1.99" fill="#ffc500"/>
<rect x="507.2" y="299.83" width="13.8" height="1.99" fill="#ffcf00"/>
<rect x="507.2" y="301.47" width="13.8" height="1.99" fill="#ffda00"/>
<rect x="507.2" y="303.12" width="13.8" height="1.99" fill="#ffe400"/>
<rect x="507.2" y="304.76" width="13.8" height="1.99" fill="#ffef00"/>
<rect x="507.2" y="306.41" width="13.8" height="1.99" fill="#fffa00"/>
<rect x="507.2" y="308.05" width="13.8" height="1.99" fill="#faff00"/>
<rect x="507.2" y="309.69" width="13.8" height="1.99" fill="#efff00"/>
<rect x="507.2" y="311.34" width="13.8" height="1.99" fill="#e4ff00"/>
<rect x="507.2" y="312.98" width="13.8" height="1.99" fill="#daff00"/>
<rect x="507.2" y="314.62" width="13.8" height="1.99" fill="#cfff00"/>
<rect x="507.2" y="316.27" width="13.8" height="1.99" fill="#c5ff00"/>
<rect x="507.2" y="317.91" width="13.8" height="1.99" fill="#baff00"/>
<rect x="507.2" y="319.56" width="13.8" height="1.99" fill="#afff00"/>
<rect x="507.2" y="321.2" width="13.8" height="1.99" fill="#a5ff00"/>
<rect x="507.2" y="322.84" width="13.8" height="1.99" fill="#9aff00"/>
<rect x="507.2" y="324.49" width="13.8" height="1.99" fill="#8fff00"/>
<rect x="507.2" y="326.13" width="13.8" height="1.99" fill="#85ff00"/>
<rect x="507.2" y="327.77" width="13.8" height="1.99" fill="#7aff00"/>
<rect x="507.2" y="329.42" width="13.8" height="1.99" fill="#70ff00"/>
<rect x="507.2" y="331.06" width="13.8" height="1.99" fill="#65ff00"/>
<rect x="507.2" y="332.71" width="13.8" height="1.99" fill="#5aff00"/>
<rect x="507.2" y="334.35" width="13.8" height="1.99" fill="#50ff00"/>
<rect x="507.2" y="335.99" width="13.8" height="1.99" fill="#45ff00"/>
<rect x="507.2" y="337.64" width="13.8" height="1.99" fill="#3aff00"/>
<rect x="507.2" y="339.28" width="13.8" height="1.99" fill="#30ff00"/>
<rect x="507.2" y="340.93" width="13.8" height="1.99" fill="#25ff00"/>
<rect x="507.2" y="342.57" width="13.8" height="1.99" fill="#1bff00"/>
<rect x="507.2" y="344.21" width="13.8" height="1.99" fill="#10ff00"/>
<rect x="507.2" y="345.86" width="13.8" height="1.99" fill="#05ff00"/>
<rect x="507.2" y="347.5" width="13.8" height="1.99" fill="#00ff05"/>
<rect x="507.2" y="349.14" width="13.8" height="1.99" fill="#00ff10"/>
<rect x="507.2" y="350.79" width="13.8" height="1.99" fill="#00ff1b"/>
<rect x="507.2" y="352.43" width="13.8" height="1.99" fill="#00ff25"/>
<rect x="507.2" y="354.07" width="13.8" height="1.99" fill="#00ff30"/>
<rect x="507.2" y="355.72" width="13.8" height="1.99" fill="#00ff3a"/>
<rect x="507.2" y="357.36" width="13.8" height="1.99" fill="#00ff45"/>
<rect x="507.2" y="359.01" width="13.8" height="1.99" fill="#00ff50"/>
<rect x="507.2" y="360.65" width="13.8" height="1.99" fill="#00ff5a"/>
<rect x="507.2" y="362.29" width="13.8" height="1.99" fill="#00ff65"/>
<rect x="507.2" y="363.94" width="13.8" height="1.99" fill="#00ff70"/>
<rect x="507.2" y="365.58" width="13.8" height="1.99" fill="#00ff7a"/>
<rect x="507.2" y="367.23" width="13.8" height="1.99" fill="#00ff85"/>
<rect x="507.2" y="368.87" width="13.8" height="1.99" fill="#00ff8f"/>
<rect x="507.2" y="370.51" width="13.8" height="1.99" fill="#00ff9a"/>
<rect x="507.2" y="372.16" width="13.8" height="1.99" fill="#00ffa5"/>
<rect x="507.2" y="373.8" width="13.8" height="1.99" fill="#00ffaf"/>
<rect x="507.2" y="375.44" width="13.8" height="1.99" fill="#00ffba"/>
<rect x="507.2" y="377.09" width="13.8" height="1.99" fill="#00ffc5"/>
<rect x="507.2" y="378.73" width="13.8" height="1.99" fill="#00ffcf"/>
<rect x="507.2" y="380.38" width="13.8" height="1.99" fill="#00ffda"/>
<rect x="507.2" y="382.02" width="13.8" height="1.99" fill="#00ffe4"/>
<rect x="507.2" y="383.66" width="13.8" height="1.99" fill="#00ffef"/>
<rect x="507.2" y="385.31" width="13.8" height="1.99" fill="#00fffa"/>
<rect x="507.2" y="386.95" width="13.8" height="1.99" fill="#00faff"/>
<rect x="507.2" y="388.59" width="13.8" height="1.99" fill="#00efff"/>
<rect x="507.2" y="390.24" width="13.8" height="1.99" fill="#00e4ff"/>
<rect x="507.2" y="391.88" width="13.8" height="1.99" fill="#00daff"/>
<rect x="507.2" y="393.53" width="13.8" height="1.99" fill="#00cfff"/>
<rect x="507.2" y="395.17" width="13.8" height="1.99" fill="#00c5ff"/>
<rect x="507.2" y="396.81" width="13.8" height="1.99" fill="#00baff"/>
<rect x="507.2" y="398.46" width="13.8" height="1.99" fill="#00afff"/>
<rect x="507.2" y="400.1" width="13.8" height="1.99" fill="#00a5ff"/>
<rect x="507.2" y="401.74" width="13.8" height="1.99" fill="#009aff"/>
<rect x="507.2" y="403.39" width="13.8" height="1.99" fill="#008fff"/>
<rect x="507.2" y="405.03" width="13.8" height="1.99" fill="#0085ff"/>
<rect x="507.2" y="406.68" width="13.8" height="1.99" fill="#007aff"/>
<rect x="507.2" y="408.32" width="13.8" height="1.99" fill="#0070ff"/>
<rect x="507.2" y="409.96" width="13.8" height="1.99" fill="#0065ff"/>
<rect x="507.2" y="411.61" width="13.8" height="1.99" fill="#005aff"/>
<rect x="507.2" y="413.25" width="13.8" height="1.99" fill="#0050ff"/>
<rect x="507.2" y="414.89" width="13.8" height="1.99" fill="#0045ff"/>
<rect x="507.2" y="416.54" width="13.8" height="1.99" fill="#003aff"/>
<rect x="507.2" y="418.18" width="13.8" height="1.99" fill="#0030ff"/>
<rect x="507.2" y="419.83" width="13.8" height="1.99" fill="#0025ff"/>
<rect x="507.2" y="421.47" width="13.8" height="1.99" fill="#001bff"/>
<rect x="507.2" y="423.11" width="13.8" height="1.99" fill="#0010ff"/>
<rect x="507.2" y="424.76" width="13.8" height="1.99" fill="#0005ff"/>
<rect x="507.2" y="426.4" width="13.8" height="3.4" fill="#000"/>
<line x1="521" y1="426.4" x2="523.2" y2="426.4" stroke="#333" stroke-width="0.7"/>
<text x="527" y="430.87" font-size="9.4" text-anchor="start" font-weight="normal" font-family='"Liberation Sans", sans-serif' fill="#222">130</text>
<line x1="521" y1="406.68" x2="523.2" y2="406.68" stroke="#333" stroke-width="0.7"/>
<text x="527" y="411.14" font-size="9.4" text-anchor="start" font-weight="normal" font-family='"Liberation Sans", sans-serif' fill="#222">136</text>
<line x1="521" y1="386.95" x2="523.2" y2="386.95" stroke="#333" stroke-width="0.7"/>
<text x="527" y="391.42" font-size="9.4" text-anchor="start" font-weight="normal" font-family='"Liberation Sans", sans-serif' fill="#222">142</text>
<line x1="521" y1="367.23" x2="523.2" y2="367.23" stroke="#333" stroke-width="0.7"/>
<text x="527" y="371.69" font-size="9.4" text-anchor="start" font-weight="normal" font-family='"Liberation Sans", sans-serif' fill="#222">148</text>
<line x1="521" y1="347.5" x2="523.2" y2="347.5" stroke="#333" stroke-width="0.7"/>
<text x="527" y="351.97" font-size="9.4" text-anchor="start" font-weight="normal" font-family='"Liberation Sans", sans-serif' fill="#222">154</text>
<line x1="521" y1="327.77" x2="523.2" y2="327.77" stroke="#333" stroke-width="0.7"/>
<text x="527" y="332.24" font-size="9.4" text-anchor="start" font-weight="normal" font-family='"Liberation Sans", sans-serif' fill="#222">160</text>
<line x1="521" y1="308.05" x2="523.2" y2="308.05" stroke="#333" stroke-width="0.7"/>
<text x="527" y="312.52" font-size="9.4" text-anchor="start" font-weight="normal" font-family='"Liberation Sans", sans-serif' fill="#222">166</text>
<line x1="521" y1="288.32" x2="523.2" y2="288.32" stroke="#333" stroke-width="0.7"/>
<text x="527" y="292.79" font-size="9.4" text-anchor="start" font-weight="normal" font-family='"Liberation Sans", sans-serif' fill="#222">172</text>
<line x1="521" y1="268.6" x2="523.2" y2="268.6" stroke="#333" stroke-width="0.7"/>
<text x="527" y="273.07" font-size="9.4" text-anchor="start" font-weight="normal" font-family='"Liberation Sans", sans-serif' fill="#222">178</text>
<text x="515.4" y="261.2" font-size="9" text-anchor="middle" font-weight="bold" font-family='"Liberation Sans", sans-serif' fill="#000">T_com (°C)</text>
</svg>
</body></html>
